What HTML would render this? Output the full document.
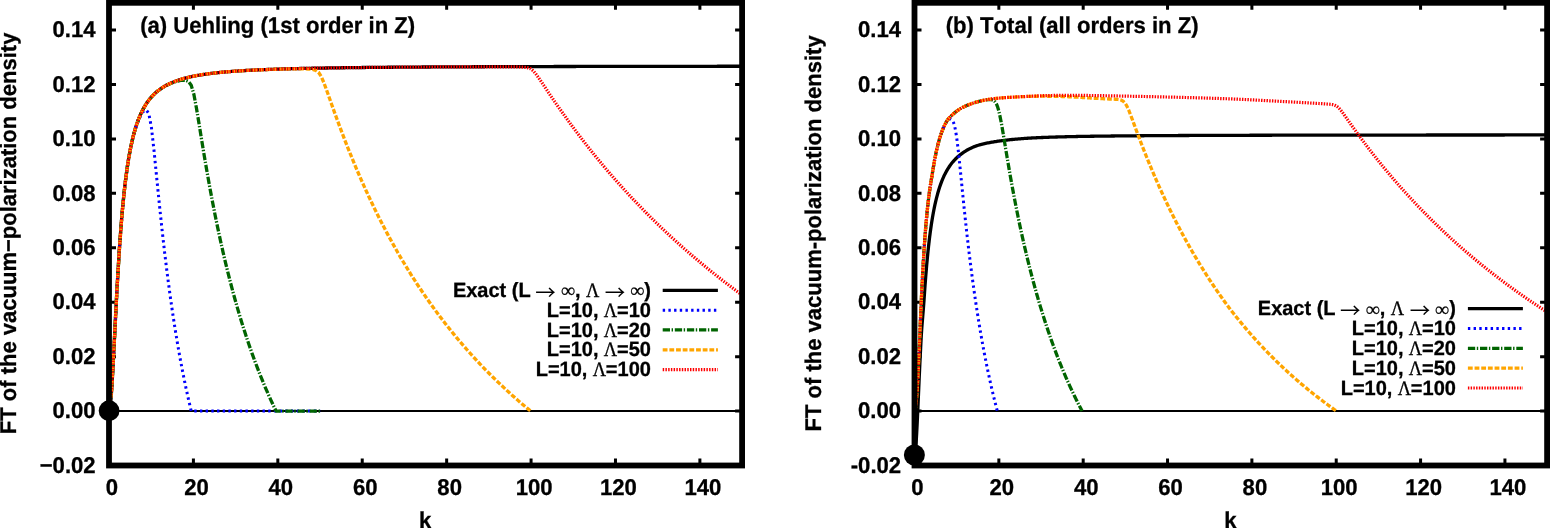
<!DOCTYPE html>
<html><head><meta charset="utf-8"><title>FT of the vacuum-polarization density</title>
<style>html,body{margin:0;padding:0;background:#fff}svg{display:block}</style></head>
<body>
<svg width="1550" height="528" viewBox="0 0 1550 528" style="font-kerning:none;text-rendering:geometricPrecision">
<rect width="1550" height="528" fill="#fff"/>
<clipPath id="c0"><rect x="109.0" y="2.8" width="633.1" height="462.7"/></clipPath>
<line x1="109.0" x2="742.1" y1="411.06" y2="411.06" stroke="#000" stroke-width="1.9"/>
<path d="M109.00,465.5v-7.0M109.00,2.8v7.0M193.41,465.5v-7.0M193.41,2.8v7.0M277.83,465.5v-7.0M277.83,2.8v7.0M362.24,465.5v-7.0M362.24,2.8v7.0M446.65,465.5v-7.0M446.65,2.8v7.0M531.07,465.5v-7.0M531.07,2.8v7.0M615.48,465.5v-7.0M615.48,2.8v7.0M699.89,465.5v-7.0M699.89,2.8v7.0M109.0,465.50h7.0M742.1,465.50h-7.0M109.0,411.06h7.0M742.1,411.06h-7.0M109.0,356.63h7.0M742.1,356.63h-7.0M109.0,302.19h7.0M742.1,302.19h-7.0M109.0,247.76h7.0M742.1,247.76h-7.0M109.0,193.32h7.0M742.1,193.32h-7.0M109.0,138.89h7.0M742.1,138.89h-7.0M109.0,84.45h7.0M742.1,84.45h-7.0M109.0,30.02h7.0M742.1,30.02h-7.0" stroke="#000" stroke-width="3.0" fill="none"/>
<g clip-path="url(#c0)">
<path d="M109.00,411.06 L109.11,411.03 L109.21,410.92 L109.32,410.74 L109.42,410.48 L109.53,410.16 L109.64,409.76 L109.74,409.30 L109.85,408.76 L109.95,408.15 L110.06,407.48 L110.17,406.74 L110.27,405.93 L110.38,405.06 L110.48,404.12 L110.59,403.12 L110.70,402.06 L110.80,400.94 L110.91,399.76 L111.01,398.53 L111.12,397.24 L111.23,395.89 L111.33,394.50 L111.44,393.05 L111.55,391.56 L111.65,390.02 L111.76,388.44 L111.86,386.81 L111.97,385.14 L112.08,383.44 L112.18,381.70 L112.29,379.92 L112.39,378.11 L112.50,376.26 L112.61,374.39 L112.71,372.49 L112.82,370.56 L112.92,368.61 L113.03,366.64 L113.14,364.64 L113.24,362.63 L113.35,360.59 L113.45,358.54 L113.56,356.48 L113.67,354.41 L113.77,352.32 L113.88,350.22 L113.98,348.11 L114.09,346.00 L114.20,343.88 L114.30,341.75 L114.41,339.62 L114.51,337.49 L114.62,335.36 L114.73,333.23 L114.83,331.09 L114.94,328.96 L115.04,326.84 L115.15,324.71 L115.26,322.59 L115.36,320.48 L115.47,318.37 L115.57,316.27 L115.68,314.18 L115.79,312.09 L115.89,310.01 L116.00,307.95 L116.11,305.89 L116.21,303.84 L116.32,301.81 L116.42,299.79 L116.53,297.78 L116.64,295.78 L116.74,293.79 L116.85,291.82 L116.95,289.86 L117.06,287.92 L117.17,285.98 L117.27,284.07 L117.38,282.17 L117.48,280.28 L117.59,278.41 L117.70,276.55 L117.80,274.71 L117.91,272.88 L118.01,271.07 L118.12,269.28 L118.23,267.50 L118.33,265.74 L118.44,263.99 L118.54,262.26 L118.65,260.55 L118.76,258.85 L118.86,257.17 L118.97,255.50 L119.07,253.85 L119.18,252.22 L119.29,250.60 L119.39,249.00 L119.50,247.42 L119.60,245.85 L119.71,244.29 L119.82,242.75 L119.92,241.23 L120.03,239.73 L120.13,238.23 L120.24,236.76 L120.35,235.30 L120.45,233.85 L120.56,232.42 L120.67,231.01 L120.77,229.61 L120.88,228.23 L120.98,226.86 L121.09,225.50 L121.20,224.16 L121.30,222.83 L121.41,221.52 L121.51,220.22 L121.62,218.94 L121.73,217.67 L121.83,216.41 L121.94,215.17 L122.04,213.94 L122.15,212.72 L122.26,211.52 L122.36,210.33 L122.47,209.15 L122.57,207.99 L122.68,206.83 L122.79,205.70 L122.89,204.57 L123.00,203.45 L123.10,202.35 L123.21,201.26 L123.32,200.18 L123.42,199.12 L123.53,198.06 L123.63,197.02 L123.74,195.98 L123.85,194.96 L123.95,193.95 L124.06,192.95 L124.16,191.96 L124.27,190.99 L124.38,190.02 L124.48,189.06 L124.59,188.12 L124.69,187.18 L124.80,186.25 L124.91,185.34 L125.01,184.43 L125.12,183.53 L125.23,182.65 L125.33,181.77 L125.44,180.90 L125.54,180.04 L125.65,179.19 L125.76,178.35 L125.86,177.52 L125.97,176.69 L126.07,175.88 L126.18,175.07 L126.29,174.28 L126.39,173.49 L126.50,172.70 L126.60,171.93 L126.71,171.17 L126.82,170.41 L126.92,169.66 L127.03,168.92 L127.13,168.19 L127.24,167.46 L127.35,166.74 L127.45,166.03 L127.56,165.33 L127.66,164.63 L127.77,163.94 L127.88,163.26 L127.98,162.58 L128.09,161.91 L128.19,161.25 L128.30,160.59 L128.41,159.95 L128.51,159.30 L128.62,158.67 L128.72,158.04 L128.83,157.41 L128.94,156.80 L129.04,156.19 L129.15,155.58 L129.25,154.98 L129.36,154.39 L129.47,153.80 L129.57,153.22 L129.68,152.65 L129.79,152.08 L129.89,151.51 L130.00,150.95 L130.10,150.40 L131.13,145.33 L132.15,140.70 L133.17,136.47 L134.19,132.58 L135.21,129.01 L136.23,125.73 L137.26,122.70 L138.28,119.89 L139.30,117.30 L140.32,114.89 L141.34,112.65 L142.36,110.56 L143.39,108.61 L144.41,106.79 L145.43,105.09 L146.45,103.50 L147.47,102.00 L148.49,100.60 L149.52,99.27 L150.54,98.03 L151.56,96.85 L152.58,95.74 L153.60,94.69 L154.62,93.70 L155.65,92.76 L156.67,91.86 L157.69,91.02 L158.71,90.21 L159.73,89.45 L160.75,88.72 L161.78,88.02 L162.80,87.36 L163.82,86.73 L164.84,86.13 L165.86,85.55 L166.88,85.00 L167.91,84.47 L168.93,83.97 L169.95,83.48 L170.97,83.02 L171.99,82.58 L173.01,82.15 L174.04,81.74 L175.06,81.34 L176.08,80.96 L177.10,80.60 L178.12,80.25 L179.14,79.91 L180.17,79.58 L181.19,79.27 L182.21,78.97 L183.23,78.67 L184.25,78.39 L185.27,78.12 L186.30,77.85 L187.32,77.60 L188.34,77.35 L189.36,77.11 L190.38,76.88 L191.41,76.66 L192.43,76.44 L193.45,76.23 L194.47,76.03 L195.49,75.83 L196.51,75.64 L197.54,75.46 L198.56,75.28 L199.58,75.10 L200.60,74.93 L201.62,74.77 L202.64,74.61 L203.67,74.45 L204.69,74.30 L205.71,74.15 L206.73,74.01 L207.75,73.87 L208.77,73.73 L209.80,73.60 L210.82,73.47 L211.84,73.35 L212.86,73.23 L213.88,73.11 L214.90,72.99 L215.93,72.88 L216.95,72.77 L217.97,72.66 L218.99,72.56 L220.01,72.45 L221.03,72.35 L222.06,72.26 L223.08,72.16 L224.10,72.07 L225.12,71.98 L226.14,71.89 L227.16,71.80 L228.19,71.72 L229.21,71.63 L230.23,71.55 L231.25,71.47 L232.27,71.39 L233.29,71.32 L234.32,71.24 L235.34,71.17 L236.36,71.10 L237.38,71.03 L238.40,70.96 L239.42,70.90 L240.45,70.83 L241.47,70.77 L242.49,70.70 L243.51,70.64 L244.53,70.58 L245.56,70.52 L246.58,70.46 L247.60,70.41 L248.62,70.35 L249.64,70.30 L250.66,70.24 L251.69,70.19 L252.71,70.14 L253.73,70.09 L254.75,70.04 L255.77,69.99 L256.79,69.94 L257.82,69.90 L258.84,69.85 L259.86,69.80 L260.88,69.76 L261.90,69.72 L262.92,69.67 L263.95,69.63 L264.97,69.59 L265.99,69.55 L267.01,69.51 L268.03,69.47 L269.05,69.43 L270.08,69.39 L271.10,69.36 L272.12,69.32 L273.14,69.28 L274.16,69.25 L275.18,69.21 L276.21,69.18 L277.23,69.14 L278.25,69.11 L279.27,69.08 L280.29,69.05 L281.31,69.01 L282.34,68.98 L283.36,68.95 L284.38,68.92 L285.40,68.89 L286.42,68.86 L287.44,68.83 L288.47,68.81 L289.49,68.78 L290.51,68.75 L291.53,68.72 L292.55,68.70 L293.57,68.67 L294.60,68.64 L295.62,68.62 L296.64,68.59 L297.66,68.57 L298.68,68.54 L299.71,68.52 L300.73,68.50 L301.75,68.47 L302.77,68.45 L303.79,68.43 L304.81,68.40 L305.84,68.38 L306.86,68.36 L307.88,68.34 L308.90,68.32 L309.92,68.30 L310.94,68.28 L311.97,68.26 L312.99,68.24 L314.01,68.22 L315.03,68.20 L316.05,68.18 L317.07,68.16 L318.10,68.14 L319.12,68.12 L320.14,68.10 L321.16,68.08 L322.18,68.07 L323.20,68.05 L324.23,68.03 L325.25,68.01 L326.27,68.00 L327.29,67.98 L328.31,67.96 L329.33,67.95 L330.36,67.93 L331.38,67.92 L332.40,67.90 L333.42,67.88 L334.44,67.87 L335.46,67.85 L336.49,67.84 L337.51,67.82 L338.53,67.81 L339.55,67.79 L340.57,67.78 L341.59,67.77 L342.62,67.75 L343.64,67.74 L344.66,67.73 L345.68,67.71 L346.70,67.70 L347.72,67.69 L348.75,67.67 L349.77,67.66 L350.79,67.65 L351.81,67.63 L352.83,67.62 L353.86,67.61 L354.88,67.60 L355.90,67.59 L356.92,67.57 L357.94,67.56 L358.96,67.55 L359.99,67.54 L361.01,67.53 L362.03,67.52 L363.05,67.51 L364.07,67.49 L365.09,67.48 L366.12,67.47 L367.14,67.46 L368.16,67.45 L369.18,67.44 L370.20,67.43 L371.22,67.42 L372.25,67.41 L373.27,67.40 L374.29,67.39 L375.31,67.38 L376.33,67.37 L377.35,67.36 L378.38,67.35 L379.40,67.34 L380.42,67.33 L381.44,67.33 L382.46,67.32 L383.48,67.31 L384.51,67.30 L385.53,67.29 L386.55,67.28 L387.57,67.27 L388.59,67.26 L389.61,67.26 L390.64,67.25 L391.66,67.24 L392.68,67.23 L393.70,67.22 L394.72,67.21 L395.74,67.21 L396.77,67.20 L397.79,67.19 L398.81,67.18 L399.83,67.18 L400.85,67.17 L401.87,67.16 L402.90,67.15 L403.92,67.15 L404.94,67.14 L405.96,67.13 L406.98,67.12 L408.00,67.12 L409.03,67.11 L410.05,67.10 L411.07,67.10 L412.09,67.09 L413.11,67.08 L414.14,67.08 L415.16,67.07 L416.18,67.06 L417.20,67.06 L418.22,67.05 L419.24,67.04 L420.27,67.04 L421.29,67.03 L422.31,67.02 L423.33,67.02 L424.35,67.01 L425.37,67.01 L426.40,67.00 L427.42,66.99 L428.44,66.99 L429.46,66.98 L430.48,66.98 L431.50,66.97 L432.53,66.96 L433.55,66.96 L434.57,66.95 L435.59,66.95 L436.61,66.94 L437.63,66.94 L438.66,66.93 L439.68,66.93 L440.70,66.92 L441.72,66.91 L442.74,66.91 L443.76,66.90 L444.79,66.90 L445.81,66.89 L446.83,66.89 L447.85,66.88 L448.87,66.88 L449.89,66.87 L450.92,66.87 L451.94,66.86 L452.96,66.86 L453.98,66.85 L455.00,66.85 L456.02,66.85 L457.05,66.84 L458.07,66.84 L459.09,66.83 L460.11,66.83 L461.13,66.82 L462.15,66.82 L463.18,66.81 L464.20,66.81 L465.22,66.80 L466.24,66.80 L467.26,66.80 L468.29,66.79 L469.31,66.79 L470.33,66.78 L471.35,66.78 L472.37,66.77 L473.39,66.77 L474.42,66.77 L475.44,66.76 L476.46,66.76 L477.48,66.75 L478.50,66.75 L479.52,66.75 L480.55,66.74 L481.57,66.74 L482.59,66.73 L483.61,66.73 L484.63,66.73 L485.65,66.72 L486.68,66.72 L487.70,66.72 L488.72,66.71 L489.74,66.71 L490.76,66.70 L491.78,66.70 L492.81,66.70 L493.83,66.69 L494.85,66.69 L495.87,66.69 L496.89,66.68 L497.91,66.68 L498.94,66.68 L499.96,66.67 L500.98,66.67 L502.00,66.67 L503.02,66.66 L504.04,66.66 L505.07,66.66 L506.09,66.65 L507.11,66.65 L508.13,66.65 L509.15,66.64 L510.17,66.64 L511.20,66.64 L512.22,66.63 L513.24,66.63 L514.26,66.63 L515.28,66.63 L516.30,66.62 L517.33,66.62 L518.35,66.62 L519.37,66.61 L520.39,66.61 L521.41,66.61 L522.44,66.60 L523.46,66.60 L524.48,66.60 L525.50,66.60 L526.52,66.59 L527.54,66.59 L528.57,66.59 L529.59,66.58 L530.61,66.58 L531.63,66.58 L532.65,66.58 L533.67,66.57 L534.70,66.57 L535.72,66.57 L536.74,66.57 L537.76,66.56 L538.78,66.56 L539.80,66.56 L540.83,66.56 L541.85,66.55 L542.87,66.55 L543.89,66.55 L544.91,66.55 L545.93,66.54 L546.96,66.54 L547.98,66.54 L549.00,66.54 L550.02,66.53 L551.04,66.53 L552.06,66.53 L553.09,66.53 L554.11,66.52 L555.13,66.52 L556.15,66.52 L557.17,66.52 L558.19,66.51 L559.22,66.51 L560.24,66.51 L561.26,66.51 L562.28,66.50 L563.30,66.50 L564.32,66.50 L565.35,66.50 L566.37,66.50 L567.39,66.49 L568.41,66.49 L569.43,66.49 L570.45,66.49 L571.48,66.48 L572.50,66.48 L573.52,66.48 L574.54,66.48 L575.56,66.48 L576.59,66.47 L577.61,66.47 L578.63,66.47 L579.65,66.47 L580.67,66.47 L581.69,66.46 L582.72,66.46 L583.74,66.46 L584.76,66.46 L585.78,66.46 L586.80,66.45 L587.82,66.45 L588.85,66.45 L589.87,66.45 L590.89,66.45 L591.91,66.44 L592.93,66.44 L593.95,66.44 L594.98,66.44 L596.00,66.44 L597.02,66.44 L598.04,66.43 L599.06,66.43 L600.08,66.43 L601.11,66.43 L602.13,66.43 L603.15,66.42 L604.17,66.42 L605.19,66.42 L606.21,66.42 L607.24,66.42 L608.26,66.42 L609.28,66.41 L610.30,66.41 L611.32,66.41 L612.34,66.41 L613.37,66.41 L614.39,66.41 L615.41,66.40 L616.43,66.40 L617.45,66.40 L618.47,66.40 L619.50,66.40 L620.52,66.40 L621.54,66.39 L622.56,66.39 L623.58,66.39 L624.60,66.39 L625.63,66.39 L626.65,66.39 L627.67,66.38 L628.69,66.38 L629.71,66.38 L630.73,66.38 L631.76,66.38 L632.78,66.38 L633.80,66.38 L634.82,66.37 L635.84,66.37 L636.87,66.37 L637.89,66.37 L638.91,66.37 L639.93,66.37 L640.95,66.37 L641.97,66.36 L643.00,66.36 L644.02,66.36 L645.04,66.36 L646.06,66.36 L647.08,66.36 L648.10,66.36 L649.13,66.35 L650.15,66.35 L651.17,66.35 L652.19,66.35 L653.21,66.35 L654.23,66.35 L655.26,66.35 L656.28,66.34 L657.30,66.34 L658.32,66.34 L659.34,66.34 L660.36,66.34 L661.39,66.34 L662.41,66.34 L663.43,66.34 L664.45,66.33 L665.47,66.33 L666.49,66.33 L667.52,66.33 L668.54,66.33 L669.56,66.33 L670.58,66.33 L671.60,66.33 L672.62,66.32 L673.65,66.32 L674.67,66.32 L675.69,66.32 L676.71,66.32 L677.73,66.32 L678.75,66.32 L679.78,66.32 L680.80,66.31 L681.82,66.31 L682.84,66.31 L683.86,66.31 L684.88,66.31 L685.91,66.31 L686.93,66.31 L687.95,66.31 L688.97,66.30 L689.99,66.30 L691.02,66.30 L692.04,66.30 L693.06,66.30 L694.08,66.30 L695.10,66.30 L696.12,66.30 L697.15,66.30 L698.17,66.29 L699.19,66.29 L700.21,66.29 L701.23,66.29 L702.25,66.29 L703.28,66.29 L704.30,66.29 L705.32,66.29 L706.34,66.29 L707.36,66.29 L708.38,66.28 L709.41,66.28 L710.43,66.28 L711.45,66.28 L712.47,66.28 L713.49,66.28 L714.51,66.28 L715.54,66.28 L716.56,66.28 L717.58,66.27 L718.60,66.27 L719.62,66.27 L720.64,66.27 L721.67,66.27 L722.69,66.27 L723.71,66.27 L724.73,66.27 L725.75,66.27 L726.77,66.27 L727.80,66.27 L728.82,66.26 L729.84,66.26 L730.86,66.26 L731.88,66.26 L732.90,66.26 L733.93,66.26 L734.95,66.26 L735.97,66.26 L736.99,66.26 L738.01,66.26 L739.03,66.26 L740.06,66.25 L741.08,66.25 L742.10,66.25" fill="none" stroke="#000" stroke-width="3.3" stroke-linejoin="round"/>
<path d="M109.00,411.06 L111.65,390.02 L114.30,341.74 L116.96,289.84 L119.61,245.83 L122.26,211.53 L124.91,185.39 L127.56,165.43 L130.22,150.05 L132.87,138.04 L135.52,128.59 L138.17,121.14 L140.82,115.42 L143.48,111.44 L146.13,109.92 L148.78,113.47 L151.43,127.41 L154.08,151.18 L156.73,178.06 L159.39,204.60 L162.04,229.67 L164.69,253.02 L167.34,274.63 L169.99,294.63 L172.65,313.13 L175.30,330.27 L177.95,346.19 L180.60,361.00 L183.25,374.80 L185.91,387.69 L188.56,399.75 L191.21,411.06 L193.86,411.06 L196.51,411.06 L199.17,411.06 L201.82,411.06 L204.47,411.06 L207.12,411.06 L209.77,411.06 L212.43,411.06 L215.08,411.06 L217.73,411.06 L220.38,411.06 L223.03,411.06 L225.68,411.06 L228.34,411.06 L230.99,411.06 L233.64,411.06 L236.29,411.06 L238.94,411.06 L241.60,411.06 L244.25,411.06 L246.90,411.06 L249.55,411.06 L252.20,411.06 L254.86,411.06 L257.51,411.06 L260.16,411.06 L262.81,411.06 L265.46,411.06 L268.12,411.06 L270.77,411.06 L273.42,411.06 L276.07,411.06 L278.72,411.06 L281.38,411.06 L284.03,411.06 L286.68,411.06 L289.33,411.06 L291.98,411.06 L294.63,411.06 L297.29,411.06 L299.94,411.06 L302.59,411.06 L305.24,411.06 L307.89,411.06 L310.55,411.06 L313.20,411.06 L315.85,411.06 L318.50,411.06 L320.16,411.06" fill="none" stroke="#0000ff" stroke-width="3.0" stroke-dasharray="2.4,3.29" stroke-linejoin="round"/>
<path d="M109.00,411.06 L111.65,390.02 L114.30,341.73 L116.96,289.83 L119.61,245.81 L122.26,211.48 L124.91,185.30 L127.56,165.30 L130.22,149.83 L132.87,137.68 L135.52,128.01 L138.17,120.19 L140.82,113.79 L143.48,108.48 L146.13,104.03 L148.78,100.26 L151.43,97.05 L154.08,94.28 L156.73,91.89 L159.39,89.81 L162.04,87.99 L164.69,86.39 L167.34,84.99 L169.99,83.76 L172.65,82.69 L175.30,81.78 L177.95,81.03 L180.60,80.48 L183.25,80.20 L185.91,80.39 L188.56,81.57 L191.21,85.24 L193.86,94.25 L196.51,108.45 L199.17,124.60 L201.82,140.98 L204.47,157.01 L207.12,172.45 L209.77,187.26 L212.43,201.43 L215.08,214.96 L217.73,227.89 L220.38,240.24 L223.03,252.04 L225.68,263.34 L228.34,274.15 L230.99,284.51 L233.64,294.44 L236.29,303.96 L238.94,313.11 L241.60,321.90 L244.25,330.35 L246.90,338.48 L249.55,346.31 L252.20,353.85 L254.86,361.12 L257.51,368.13 L260.16,374.91 L262.81,381.45 L265.46,387.77 L268.12,393.88 L270.77,399.80 L273.42,405.52 L276.07,411.06 L278.72,411.06 L281.38,411.06 L284.03,411.06 L286.68,411.06 L289.33,411.06 L291.98,411.06 L294.63,411.06 L297.29,411.06 L299.94,411.06 L302.59,411.06 L305.24,411.06 L307.89,411.06 L310.55,411.06 L313.20,411.06 L315.85,411.06 L318.50,411.06 L320.16,411.06" fill="none" stroke="#006400" stroke-width="3.3" stroke-dasharray="7.3,1.6,1.4,1.8" stroke-linejoin="round"/>
<path d="M109.00,411.06 L111.65,390.02 L114.30,341.73 L116.96,289.82 L119.61,245.81 L122.26,211.48 L124.91,185.30 L127.56,165.29 L130.22,149.82 L132.87,137.68 L135.52,128.00 L138.17,120.18 L140.82,113.77 L143.48,108.45 L146.13,103.99 L148.78,100.22 L151.43,96.99 L154.08,94.22 L156.73,91.81 L159.39,89.70 L162.04,87.85 L164.69,86.22 L167.34,84.76 L169.99,83.47 L172.65,82.30 L175.30,81.26 L177.95,80.31 L180.60,79.45 L183.25,78.67 L185.91,77.96 L188.56,77.30 L191.21,76.71 L193.86,76.15 L196.51,75.65 L199.17,75.18 L201.82,74.74 L204.47,74.34 L207.12,73.96 L209.77,73.61 L212.43,73.29 L215.08,72.98 L217.73,72.70 L220.38,72.43 L223.03,72.18 L225.68,71.94 L228.34,71.72 L230.99,71.51 L233.64,71.31 L236.29,71.12 L238.94,70.95 L241.60,70.78 L244.25,70.62 L246.90,70.47 L249.55,70.33 L252.20,70.20 L254.86,70.07 L257.51,69.95 L260.16,69.83 L262.81,69.73 L265.46,69.62 L268.12,69.53 L270.77,69.43 L273.42,69.35 L276.07,69.27 L278.72,69.19 L281.38,69.12 L284.03,69.06 L286.68,69.00 L289.33,68.95 L291.98,68.91 L294.63,68.87 L297.29,68.85 L299.94,68.85 L302.59,68.87 L305.24,68.92 L307.89,69.03 L310.55,69.23 L313.20,69.61 L315.85,70.41 L318.50,72.24 L321.15,76.29 L323.81,82.54 L326.46,89.73 L329.11,97.19 L331.76,104.68 L334.41,112.10 L337.07,119.41 L339.72,126.59 L342.37,133.63 L345.02,140.54 L347.67,147.31 L350.33,153.93 L352.98,160.43 L355.63,166.79 L358.28,173.01 L360.93,179.12 L363.58,185.10 L366.24,190.95 L368.89,196.69 L371.54,202.32 L374.19,207.84 L376.84,213.25 L379.50,218.55 L382.15,223.75 L384.80,228.86 L387.45,233.87 L390.10,238.78 L392.76,243.60 L395.41,248.34 L398.06,252.98 L400.71,257.55 L403.36,262.03 L406.02,266.43 L408.67,270.76 L411.32,275.01 L413.97,279.18 L416.62,283.29 L419.28,287.32 L421.93,291.29 L424.58,295.19 L427.23,299.03 L429.88,302.80 L432.53,306.51 L435.19,310.16 L437.84,313.75 L440.49,317.29 L443.14,320.77 L445.79,324.19 L448.45,327.56 L451.10,330.88 L453.75,334.15 L456.40,337.37 L459.05,340.54 L461.71,343.66 L464.36,346.73 L467.01,349.76 L469.66,352.75 L472.31,355.69 L474.97,358.59 L477.62,361.45 L480.27,364.26 L482.92,367.04 L485.57,369.78 L488.23,372.48 L490.88,375.14 L493.53,377.77 L496.18,380.36 L498.83,382.91 L501.48,385.43 L504.14,387.92 L506.79,390.37 L509.44,392.79 L512.09,395.18 L514.74,397.54 L517.40,399.87 L520.05,402.16 L522.70,404.43 L525.35,406.67 L528.00,408.88 L530.64,411.06" fill="none" stroke="#ffa500" stroke-width="3.3" stroke-dasharray="4.8,1.87" stroke-linejoin="round"/>
<path d="M109.00,411.06 L111.65,390.02 L114.30,341.73 L116.96,289.82 L119.61,245.81 L122.26,211.48 L124.91,185.30 L127.56,165.29 L130.22,149.82 L132.87,137.68 L135.52,128.00 L138.17,120.18 L140.82,113.77 L143.48,108.45 L146.13,103.99 L148.78,100.22 L151.43,96.99 L154.08,94.22 L156.73,91.81 L159.39,89.70 L162.04,87.85 L164.69,86.21 L167.34,84.76 L169.99,83.46 L172.65,82.30 L175.30,81.25 L177.95,80.31 L180.60,79.45 L183.25,78.67 L185.91,77.95 L188.56,77.30 L191.21,76.70 L193.86,76.15 L196.51,75.64 L199.17,75.17 L201.82,74.74 L204.47,74.33 L207.12,73.96 L209.77,73.61 L212.43,73.28 L215.08,72.97 L217.73,72.69 L220.38,72.42 L223.03,72.17 L225.68,71.93 L228.34,71.70 L230.99,71.49 L233.64,71.29 L236.29,71.11 L238.94,70.93 L241.60,70.76 L244.25,70.60 L246.90,70.45 L249.55,70.30 L252.20,70.17 L254.86,70.03 L257.51,69.91 L260.16,69.79 L262.81,69.68 L265.46,69.57 L268.12,69.47 L270.77,69.37 L273.42,69.27 L276.07,69.18 L278.72,69.10 L281.38,69.01 L284.03,68.93 L286.68,68.86 L289.33,68.78 L291.98,68.71 L294.63,68.64 L297.29,68.58 L299.94,68.52 L302.59,68.45 L305.24,68.40 L307.89,68.34 L310.55,68.29 L313.20,68.23 L315.85,68.18 L318.50,68.13 L321.15,68.09 L323.81,68.04 L326.46,68.00 L329.11,67.95 L331.76,67.91 L334.41,67.87 L337.07,67.83 L339.72,67.80 L342.37,67.76 L345.02,67.72 L347.67,67.69 L350.33,67.66 L352.98,67.62 L355.63,67.59 L358.28,67.56 L360.93,67.53 L363.58,67.50 L366.24,67.48 L368.89,67.45 L371.54,67.42 L374.19,67.40 L376.84,67.37 L379.50,67.35 L382.15,67.32 L384.80,67.30 L387.45,67.28 L390.10,67.26 L392.76,67.24 L395.41,67.22 L398.06,67.20 L400.71,67.18 L403.36,67.16 L406.02,67.14 L408.67,67.12 L411.32,67.10 L413.97,67.09 L416.62,67.07 L419.28,67.05 L421.93,67.04 L424.58,67.02 L427.23,67.01 L429.88,66.99 L432.53,66.98 L435.19,66.97 L437.84,66.95 L440.49,66.94 L443.14,66.93 L445.79,66.92 L448.45,66.90 L451.10,66.89 L453.75,66.88 L456.40,66.87 L459.05,66.86 L461.71,66.85 L464.36,66.84 L467.01,66.83 L469.66,66.83 L472.31,66.82 L474.97,66.81 L477.62,66.81 L480.27,66.80 L482.92,66.79 L485.57,66.79 L488.23,66.79 L490.88,66.79 L493.53,66.79 L496.18,66.79 L498.83,66.79 L501.48,66.80 L504.14,66.80 L506.79,66.82 L509.44,66.84 L512.09,66.86 L514.74,66.90 L517.40,66.96 L520.05,67.04 L522.70,67.17 L525.35,67.40 L528.00,67.83 L530.66,68.80 L533.31,70.89 L535.96,74.11 L538.61,77.83 L541.26,81.72 L543.92,85.67 L546.57,89.62 L549.22,93.56 L551.87,97.46 L554.52,101.34 L557.18,105.17 L559.83,108.97 L562.48,112.73 L565.13,116.44 L567.78,120.12 L570.43,123.76 L573.09,127.36 L575.74,130.92 L578.39,134.44 L581.04,137.92 L583.69,141.36 L586.35,144.77 L589.00,148.14 L591.65,151.47 L594.30,154.77 L596.95,158.03 L599.61,161.26 L602.26,164.45 L604.91,167.61 L607.56,170.73 L610.21,173.83 L612.87,176.89 L615.52,179.92 L618.17,182.91 L620.82,185.88 L623.47,188.82 L626.13,191.72 L628.78,194.60 L631.43,197.45 L634.08,200.27 L636.73,203.06 L639.38,205.82 L642.04,208.55 L644.69,211.26 L647.34,213.94 L649.99,216.60 L652.64,219.23 L655.30,221.83 L657.95,224.41 L660.60,226.97 L663.25,229.50 L665.90,232.00 L668.56,234.49 L671.21,236.95 L673.86,239.38 L676.51,241.80 L679.16,244.19 L681.82,246.56 L684.47,248.90 L687.12,251.23 L689.77,253.53 L692.42,255.82 L695.08,258.08 L697.73,260.32 L700.38,262.54 L703.03,264.75 L705.68,266.93 L708.33,269.09 L710.99,271.24 L713.64,273.36 L716.29,275.47 L718.94,277.56 L721.59,279.63 L724.25,281.68 L726.90,283.72 L729.55,285.74 L732.20,287.74 L734.85,289.72 L737.51,291.69 L740.16,293.64 L742.81,295.58 L745.46,297.49 L748.11,299.40 L750.54,301.25" fill="none" stroke="#ff0000" stroke-width="3.2" stroke-dasharray="1.45,1.28" stroke-linejoin="round"/>
</g>
<text transform="translate(112.00,495.30) scale(1,1.03)" font-size="22.1" text-anchor="middle" stroke="#000" stroke-width="0.3" font-family="Liberation Sans, Arial, Helvetica, sans-serif" font-weight="bold">0</text>
<text transform="translate(196.41,495.30) scale(1,1.03)" font-size="22.1" text-anchor="middle" stroke="#000" stroke-width="0.3" font-family="Liberation Sans, Arial, Helvetica, sans-serif" font-weight="bold">20</text>
<text transform="translate(280.83,495.30) scale(1,1.03)" font-size="22.1" text-anchor="middle" stroke="#000" stroke-width="0.3" font-family="Liberation Sans, Arial, Helvetica, sans-serif" font-weight="bold">40</text>
<text transform="translate(365.24,495.30) scale(1,1.03)" font-size="22.1" text-anchor="middle" stroke="#000" stroke-width="0.3" font-family="Liberation Sans, Arial, Helvetica, sans-serif" font-weight="bold">60</text>
<text transform="translate(449.65,495.30) scale(1,1.03)" font-size="22.1" text-anchor="middle" stroke="#000" stroke-width="0.3" font-family="Liberation Sans, Arial, Helvetica, sans-serif" font-weight="bold">80</text>
<text transform="translate(534.07,495.30) scale(1,1.03)" font-size="22.1" text-anchor="middle" stroke="#000" stroke-width="0.3" font-family="Liberation Sans, Arial, Helvetica, sans-serif" font-weight="bold">100</text>
<text transform="translate(618.48,495.30) scale(1,1.03)" font-size="22.1" text-anchor="middle" stroke="#000" stroke-width="0.3" font-family="Liberation Sans, Arial, Helvetica, sans-serif" font-weight="bold">120</text>
<text transform="translate(702.89,495.30) scale(1,1.03)" font-size="22.1" text-anchor="middle" stroke="#000" stroke-width="0.3" font-family="Liberation Sans, Arial, Helvetica, sans-serif" font-weight="bold">140</text>
<text transform="translate(95.60,472.70) scale(1,1.03)" font-size="22.1" text-anchor="end" stroke="#000" stroke-width="0.3" font-family="Liberation Sans, Arial, Helvetica, sans-serif" font-weight="bold">−0.02</text>
<text transform="translate(95.60,418.26) scale(1,1.03)" font-size="22.1" text-anchor="end" stroke="#000" stroke-width="0.3" font-family="Liberation Sans, Arial, Helvetica, sans-serif" font-weight="bold">0.00</text>
<text transform="translate(95.60,363.83) scale(1,1.03)" font-size="22.1" text-anchor="end" stroke="#000" stroke-width="0.3" font-family="Liberation Sans, Arial, Helvetica, sans-serif" font-weight="bold">0.02</text>
<text transform="translate(95.60,309.39) scale(1,1.03)" font-size="22.1" text-anchor="end" stroke="#000" stroke-width="0.3" font-family="Liberation Sans, Arial, Helvetica, sans-serif" font-weight="bold">0.04</text>
<text transform="translate(95.60,254.96) scale(1,1.03)" font-size="22.1" text-anchor="end" stroke="#000" stroke-width="0.3" font-family="Liberation Sans, Arial, Helvetica, sans-serif" font-weight="bold">0.06</text>
<text transform="translate(95.60,200.52) scale(1,1.03)" font-size="22.1" text-anchor="end" stroke="#000" stroke-width="0.3" font-family="Liberation Sans, Arial, Helvetica, sans-serif" font-weight="bold">0.08</text>
<text transform="translate(95.60,146.09) scale(1,1.03)" font-size="22.1" text-anchor="end" stroke="#000" stroke-width="0.3" font-family="Liberation Sans, Arial, Helvetica, sans-serif" font-weight="bold">0.10</text>
<text transform="translate(95.60,91.65) scale(1,1.03)" font-size="22.1" text-anchor="end" stroke="#000" stroke-width="0.3" font-family="Liberation Sans, Arial, Helvetica, sans-serif" font-weight="bold">0.12</text>
<text transform="translate(95.60,37.22) scale(1,1.03)" font-size="22.1" text-anchor="end" stroke="#000" stroke-width="0.3" font-family="Liberation Sans, Arial, Helvetica, sans-serif" font-weight="bold">0.14</text>
<rect x="109.0" y="2.8" width="633.1" height="462.7" fill="none" stroke="#000" stroke-width="5.8"/>
<circle cx="109.1" cy="410.76" r="10.4" fill="#000"/>
<text transform="translate(140.20,33.40) scale(1,1.03)" font-size="22.1" text-anchor="start" stroke="#000" stroke-width="0.3" font-family="Liberation Sans, Arial, Helvetica, sans-serif" font-weight="bold">(a) Uehling (1st order in Z)</text>
<text transform="translate(425.05,527.90) scale(1,1.03)" font-size="22.1" text-anchor="middle" stroke="#000" stroke-width="0.3" font-family="Liberation Sans, Arial, Helvetica, sans-serif" font-weight="bold">k</text>
<text transform="translate(15.90,233.40) rotate(-90) scale(1,1.03)" font-size="22.0" text-anchor="middle" stroke="#000" stroke-width="0.3" font-family="Liberation Sans, Arial, Helvetica, sans-serif" font-weight="bold">FT of the vacuum−polarization density</text>
<text transform="translate(530.70,296.90) scale(1,1.03)" font-size="20" text-anchor="end" stroke="#000" stroke-width="0.3" font-family="Liberation Sans, Arial, Helvetica, sans-serif" font-weight="bold">Exact (L</text>
<text transform="translate(545.40,299.70) scale(1,1.0)" font-size="20.5" text-anchor="middle" font-family="Noto Sans CJK SC, DejaVu Sans, sans-serif" font-weight="normal">→</text>
<text transform="translate(568.00,297.40) scale(1,1.0)" font-size="20" text-anchor="middle" stroke="#000" stroke-width="0.25" font-family="Liberation Serif, serif" font-weight="normal">∞</text>
<text transform="translate(574.90,296.90) scale(1,1.03)" font-size="20" text-anchor="start" stroke="#000" stroke-width="0.3" font-family="Liberation Sans, Arial, Helvetica, sans-serif" font-weight="bold">,</text>
<text transform="translate(592.60,296.90) scale(0.92,1.03)" font-size="20" text-anchor="middle" stroke="#000" stroke-width="0.35" font-family="Liberation Serif, serif" font-weight="normal">Λ</text>
<text transform="translate(615.00,299.70) scale(1,1.0)" font-size="20.5" text-anchor="middle" font-family="Noto Sans CJK SC, DejaVu Sans, sans-serif" font-weight="normal">→</text>
<text transform="translate(637.30,297.40) scale(1,1.0)" font-size="20" text-anchor="middle" stroke="#000" stroke-width="0.25" font-family="Liberation Serif, serif" font-weight="normal">∞</text>
<text transform="translate(650.90,296.90) scale(1,1.03)" font-size="20" text-anchor="end" stroke="#000" stroke-width="0.3" font-family="Liberation Sans, Arial, Helvetica, sans-serif" font-weight="bold">)</text>
<path d="M662.70,290.30 L717.90,290.30" fill="none" stroke="#000" stroke-width="3.3" stroke-linejoin="round"/>
<text transform="translate(650.90,316.73) scale(1,1.03)" font-size="20" text-anchor="end" stroke="#000" stroke-width="0.3" font-family="Liberation Sans, Arial, Helvetica, sans-serif" font-weight="bold">=10</text>
<text transform="translate(610.48,316.73) scale(0.92,1.03)" font-size="20" text-anchor="middle" stroke="#000" stroke-width="0.35" font-family="Liberation Serif, serif" font-weight="normal">Λ</text>
<text transform="translate(598.52,316.73) scale(1,1.03)" font-size="20" text-anchor="end" stroke="#000" stroke-width="0.3" font-family="Liberation Sans, Arial, Helvetica, sans-serif" font-weight="bold">L=10,</text>
<path d="M662.70,310.13 L717.90,310.13" fill="none" stroke="#0000ff" stroke-width="3.0" stroke-dasharray="2.4,3.29" stroke-linejoin="round"/>
<text transform="translate(650.90,336.56) scale(1,1.03)" font-size="20" text-anchor="end" stroke="#000" stroke-width="0.3" font-family="Liberation Sans, Arial, Helvetica, sans-serif" font-weight="bold">=20</text>
<text transform="translate(610.48,336.56) scale(0.92,1.03)" font-size="20" text-anchor="middle" stroke="#000" stroke-width="0.35" font-family="Liberation Serif, serif" font-weight="normal">Λ</text>
<text transform="translate(598.52,336.56) scale(1,1.03)" font-size="20" text-anchor="end" stroke="#000" stroke-width="0.3" font-family="Liberation Sans, Arial, Helvetica, sans-serif" font-weight="bold">L=10,</text>
<path d="M662.70,329.96 L717.90,329.96" fill="none" stroke="#006400" stroke-width="3.3" stroke-dasharray="7.3,1.6,1.4,1.8" stroke-linejoin="round"/>
<text transform="translate(650.90,356.39) scale(1,1.03)" font-size="20" text-anchor="end" stroke="#000" stroke-width="0.3" font-family="Liberation Sans, Arial, Helvetica, sans-serif" font-weight="bold">=50</text>
<text transform="translate(610.48,356.39) scale(0.92,1.03)" font-size="20" text-anchor="middle" stroke="#000" stroke-width="0.35" font-family="Liberation Serif, serif" font-weight="normal">Λ</text>
<text transform="translate(598.52,356.39) scale(1,1.03)" font-size="20" text-anchor="end" stroke="#000" stroke-width="0.3" font-family="Liberation Sans, Arial, Helvetica, sans-serif" font-weight="bold">L=10,</text>
<path d="M662.70,349.79 L717.90,349.79" fill="none" stroke="#ffa500" stroke-width="3.3" stroke-dasharray="4.8,1.87" stroke-linejoin="round"/>
<text transform="translate(650.90,376.22) scale(1,1.03)" font-size="20" text-anchor="end" stroke="#000" stroke-width="0.3" font-family="Liberation Sans, Arial, Helvetica, sans-serif" font-weight="bold">=100</text>
<text transform="translate(599.36,376.22) scale(0.92,1.03)" font-size="20" text-anchor="middle" stroke="#000" stroke-width="0.35" font-family="Liberation Serif, serif" font-weight="normal">Λ</text>
<text transform="translate(587.40,376.22) scale(1,1.03)" font-size="20" text-anchor="end" stroke="#000" stroke-width="0.3" font-family="Liberation Sans, Arial, Helvetica, sans-serif" font-weight="bold">L=10,</text>
<path d="M662.70,369.62 L717.90,369.62" fill="none" stroke="#ff0000" stroke-width="3.2" stroke-dasharray="1.45,1.28" stroke-linejoin="round"/>
<clipPath id="c1"><rect x="914.5" y="2.8" width="632.5999999999999" height="462.7"/></clipPath>
<line x1="914.5" x2="1547.1" y1="411.06" y2="411.06" stroke="#000" stroke-width="1.9"/>
<path d="M914.50,465.5v-7.0M914.50,2.8v7.0M998.85,465.5v-7.0M998.85,2.8v7.0M1083.19,465.5v-7.0M1083.19,2.8v7.0M1167.54,465.5v-7.0M1167.54,2.8v7.0M1251.89,465.5v-7.0M1251.89,2.8v7.0M1336.23,465.5v-7.0M1336.23,2.8v7.0M1420.58,465.5v-7.0M1420.58,2.8v7.0M1504.93,465.5v-7.0M1504.93,2.8v7.0M914.5,465.50h7.0M1547.1,465.50h-7.0M914.5,411.06h7.0M1547.1,411.06h-7.0M914.5,356.63h7.0M1547.1,356.63h-7.0M914.5,302.19h7.0M1547.1,302.19h-7.0M914.5,247.76h7.0M1547.1,247.76h-7.0M914.5,193.32h7.0M1547.1,193.32h-7.0M914.5,138.89h7.0M1547.1,138.89h-7.0M914.5,84.45h7.0M1547.1,84.45h-7.0M914.5,30.02h7.0M1547.1,30.02h-7.0" stroke="#000" stroke-width="3.0" fill="none"/>
<g clip-path="url(#c1)">
<path d="M914.50,454.61 L914.61,454.56 L914.71,454.39 L914.82,454.12 L914.92,453.73 L915.03,453.24 L915.14,452.64 L915.24,451.93 L915.35,451.12 L915.45,450.21 L915.56,449.19 L915.67,448.08 L915.77,446.88 L915.88,445.58 L915.98,444.20 L916.09,442.72 L916.20,441.17 L916.30,439.53 L916.41,437.82 L916.51,436.03 L916.62,434.18 L916.73,432.26 L916.83,430.27 L916.94,428.23 L917.04,426.13 L917.15,423.98 L917.26,421.79 L917.36,419.55 L917.47,417.26 L917.57,414.95 L917.68,412.59 L917.78,410.21 L917.89,407.81 L918.00,405.39 L918.10,402.97 L918.21,400.54 L918.31,398.11 L918.42,395.68 L918.53,393.25 L918.63,390.83 L918.74,388.42 L918.84,386.01 L918.95,383.62 L919.06,381.24 L919.16,378.87 L919.27,376.52 L919.37,374.18 L919.48,371.86 L919.59,369.56 L919.69,367.28 L919.80,365.02 L919.90,362.78 L920.01,360.56 L920.12,358.37 L920.22,356.19 L920.33,354.04 L920.43,351.91 L920.54,349.80 L920.65,347.71 L920.75,345.65 L920.86,343.61 L920.96,341.59 L921.07,339.59 L921.18,337.68 L921.28,335.86 L921.39,334.13 L921.49,332.47 L921.60,330.88 L921.71,329.35 L921.81,327.87 L921.92,326.44 L922.02,325.05 L922.13,323.70 L922.24,322.37 L922.34,321.07 L922.45,319.78 L922.55,318.51 L922.66,317.24 L922.77,315.98 L922.87,314.71 L922.98,313.44 L923.08,312.17 L923.19,310.88 L923.29,309.57 L923.40,308.25 L923.51,306.91 L923.61,305.54 L923.72,304.15 L923.82,302.73 L923.93,301.28 L924.04,299.79 L924.14,298.27 L924.25,296.72 L924.35,295.16 L924.46,293.61 L924.57,292.09 L924.67,290.58 L924.78,289.09 L924.88,287.62 L924.99,286.16 L925.10,284.73 L925.20,283.31 L925.31,281.90 L925.41,280.52 L925.52,279.15 L925.63,277.79 L925.73,276.46 L925.84,275.14 L925.94,273.83 L926.05,272.54 L926.16,271.27 L926.26,270.01 L926.37,268.77 L926.47,267.54 L926.58,266.33 L926.69,265.14 L926.79,263.95 L926.90,262.78 L927.00,261.63 L927.11,260.49 L927.22,259.37 L927.32,258.25 L927.43,257.15 L927.53,256.07 L927.64,255.00 L927.75,253.94 L927.85,252.89 L927.96,251.86 L928.06,250.84 L928.17,249.83 L928.28,248.83 L928.38,247.85 L928.49,246.88 L928.59,245.92 L928.70,244.97 L928.81,244.03 L928.91,243.10 L929.02,242.19 L929.12,241.28 L929.23,240.39 L929.33,239.51 L929.44,238.64 L929.55,237.77 L929.65,236.92 L929.76,236.08 L929.86,235.25 L929.97,234.43 L930.08,233.61 L930.18,232.81 L930.29,232.02 L930.39,231.23 L930.50,230.46 L930.61,229.69 L930.71,228.94 L930.82,228.19 L930.92,227.45 L931.03,226.72 L931.14,225.99 L931.24,225.28 L931.35,224.57 L931.45,223.87 L931.56,223.18 L931.67,222.50 L931.77,221.82 L931.88,221.16 L931.98,220.50 L932.09,219.85 L932.20,219.20 L932.30,218.56 L932.41,217.93 L932.51,217.31 L932.62,216.69 L932.73,216.08 L932.83,215.48 L932.94,214.88 L933.04,214.29 L933.15,213.71 L933.26,213.13 L933.36,212.56 L933.47,211.99 L933.57,211.43 L933.68,210.88 L933.79,210.33 L933.89,209.79 L934.00,209.26 L934.10,208.73 L934.21,208.20 L934.32,207.68 L934.42,207.17 L934.53,206.66 L934.63,206.16 L934.74,205.66 L934.84,205.17 L934.95,204.68 L935.06,204.20 L935.16,203.72 L935.27,203.25 L935.37,202.79 L935.48,202.32 L935.59,201.87 L936.61,197.67 L937.63,193.83 L938.65,190.31 L939.67,187.08 L940.69,184.12 L941.71,181.39 L942.73,178.88 L943.75,176.56 L944.77,174.41 L945.80,172.43 L946.82,170.59 L947.84,168.88 L948.86,167.27 L949.88,165.77 L950.90,164.36 L951.92,163.04 L952.94,161.80 L953.96,160.63 L954.98,159.53 L956.00,158.49 L957.03,157.52 L958.05,156.60 L959.07,155.72 L960.09,154.90 L961.11,154.12 L962.13,153.37 L963.15,152.65 L964.17,151.95 L965.19,151.29 L966.21,150.65 L967.23,150.04 L968.26,149.46 L969.28,148.91 L970.30,148.39 L971.32,147.90 L972.34,147.44 L973.36,147.01 L974.38,146.60 L975.40,146.22 L976.42,145.86 L977.44,145.52 L978.46,145.21 L979.48,144.91 L980.51,144.63 L981.53,144.36 L982.55,144.10 L983.57,143.85 L984.59,143.62 L985.61,143.39 L986.63,143.18 L987.65,142.97 L988.67,142.77 L989.69,142.58 L990.71,142.39 L991.74,142.21 L992.76,142.04 L993.78,141.87 L994.80,141.70 L995.82,141.55 L996.84,141.39 L997.86,141.24 L998.88,141.10 L999.90,140.95 L1000.92,140.82 L1001.94,140.68 L1002.97,140.55 L1003.99,140.42 L1005.01,140.29 L1006.03,140.17 L1007.05,140.05 L1008.07,139.94 L1009.09,139.82 L1010.11,139.71 L1011.13,139.61 L1012.15,139.50 L1013.17,139.40 L1014.20,139.30 L1015.22,139.21 L1016.24,139.12 L1017.26,139.03 L1018.28,138.94 L1019.30,138.86 L1020.32,138.77 L1021.34,138.69 L1022.36,138.62 L1023.38,138.54 L1024.40,138.47 L1025.43,138.40 L1026.45,138.33 L1027.47,138.26 L1028.49,138.20 L1029.51,138.14 L1030.53,138.08 L1031.55,138.02 L1032.57,137.96 L1033.59,137.90 L1034.61,137.85 L1035.63,137.80 L1036.65,137.75 L1037.68,137.70 L1038.70,137.65 L1039.72,137.61 L1040.74,137.56 L1041.76,137.52 L1042.78,137.48 L1043.80,137.44 L1044.82,137.40 L1045.84,137.36 L1046.86,137.32 L1047.88,137.28 L1048.91,137.24 L1049.93,137.21 L1050.95,137.17 L1051.97,137.14 L1052.99,137.10 L1054.01,137.07 L1055.03,137.04 L1056.05,137.01 L1057.07,136.98 L1058.09,136.95 L1059.11,136.92 L1060.14,136.89 L1061.16,136.86 L1062.18,136.83 L1063.20,136.81 L1064.22,136.78 L1065.24,136.75 L1066.26,136.73 L1067.28,136.71 L1068.30,136.68 L1069.32,136.66 L1070.34,136.64 L1071.37,136.61 L1072.39,136.59 L1073.41,136.57 L1074.43,136.55 L1075.45,136.53 L1076.47,136.51 L1077.49,136.49 L1078.51,136.47 L1079.53,136.45 L1080.55,136.43 L1081.57,136.42 L1082.59,136.40 L1083.62,136.38 L1084.64,136.37 L1085.66,136.35 L1086.68,136.33 L1087.70,136.32 L1088.72,136.30 L1089.74,136.29 L1090.76,136.27 L1091.78,136.26 L1092.80,136.24 L1093.82,136.23 L1094.85,136.21 L1095.87,136.20 L1096.89,136.19 L1097.91,136.17 L1098.93,136.16 L1099.95,136.15 L1100.97,136.13 L1101.99,136.12 L1103.01,136.11 L1104.03,136.10 L1105.05,136.08 L1106.08,136.07 L1107.10,136.06 L1108.12,136.05 L1109.14,136.04 L1110.16,136.03 L1111.18,136.02 L1112.20,136.00 L1113.22,135.99 L1114.24,135.98 L1115.26,135.97 L1116.28,135.96 L1117.31,135.95 L1118.33,135.94 L1119.35,135.93 L1120.37,135.92 L1121.39,135.91 L1122.41,135.90 L1123.43,135.89 L1124.45,135.88 L1125.47,135.87 L1126.49,135.87 L1127.51,135.86 L1128.53,135.85 L1129.56,135.84 L1130.58,135.83 L1131.60,135.82 L1132.62,135.81 L1133.64,135.81 L1134.66,135.80 L1135.68,135.79 L1136.70,135.78 L1137.72,135.77 L1138.74,135.77 L1139.76,135.76 L1140.79,135.75 L1141.81,135.74 L1142.83,135.74 L1143.85,135.73 L1144.87,135.72 L1145.89,135.71 L1146.91,135.71 L1147.93,135.70 L1148.95,135.69 L1149.97,135.69 L1150.99,135.68 L1152.02,135.67 L1153.04,135.67 L1154.06,135.66 L1155.08,135.65 L1156.10,135.65 L1157.12,135.64 L1158.14,135.63 L1159.16,135.63 L1160.18,135.62 L1161.20,135.62 L1162.22,135.61 L1163.25,135.60 L1164.27,135.60 L1165.29,135.59 L1166.31,135.59 L1167.33,135.58 L1168.35,135.58 L1169.37,135.57 L1170.39,135.57 L1171.41,135.56 L1172.43,135.55 L1173.45,135.55 L1174.48,135.54 L1175.50,135.54 L1176.52,135.53 L1177.54,135.53 L1178.56,135.52 L1179.58,135.52 L1180.60,135.51 L1181.62,135.51 L1182.64,135.50 L1183.66,135.50 L1184.68,135.50 L1185.70,135.49 L1186.73,135.49 L1187.75,135.48 L1188.77,135.48 L1189.79,135.47 L1190.81,135.47 L1191.83,135.46 L1192.85,135.46 L1193.87,135.46 L1194.89,135.45 L1195.91,135.45 L1196.93,135.44 L1197.96,135.44 L1198.98,135.43 L1200.00,135.43 L1201.02,135.43 L1202.04,135.42 L1203.06,135.42 L1204.08,135.42 L1205.10,135.41 L1206.12,135.41 L1207.14,135.40 L1208.16,135.40 L1209.19,135.40 L1210.21,135.39 L1211.23,135.39 L1212.25,135.39 L1213.27,135.38 L1214.29,135.38 L1215.31,135.38 L1216.33,135.37 L1217.35,135.37 L1218.37,135.36 L1219.39,135.36 L1220.42,135.36 L1221.44,135.36 L1222.46,135.35 L1223.48,135.35 L1224.50,135.35 L1225.52,135.34 L1226.54,135.34 L1227.56,135.34 L1228.58,135.33 L1229.60,135.33 L1230.62,135.33 L1231.64,135.32 L1232.67,135.32 L1233.69,135.32 L1234.71,135.32 L1235.73,135.31 L1236.75,135.31 L1237.77,135.31 L1238.79,135.30 L1239.81,135.30 L1240.83,135.30 L1241.85,135.30 L1242.87,135.29 L1243.90,135.29 L1244.92,135.29 L1245.94,135.28 L1246.96,135.28 L1247.98,135.28 L1249.00,135.28 L1250.02,135.27 L1251.04,135.27 L1252.06,135.27 L1253.08,135.27 L1254.10,135.26 L1255.13,135.26 L1256.15,135.26 L1257.17,135.26 L1258.19,135.25 L1259.21,135.25 L1260.23,135.25 L1261.25,135.25 L1262.27,135.25 L1263.29,135.24 L1264.31,135.24 L1265.33,135.24 L1266.36,135.24 L1267.38,135.23 L1268.40,135.23 L1269.42,135.23 L1270.44,135.23 L1271.46,135.23 L1272.48,135.22 L1273.50,135.22 L1274.52,135.22 L1275.54,135.22 L1276.56,135.21 L1277.58,135.21 L1278.61,135.21 L1279.63,135.21 L1280.65,135.21 L1281.67,135.20 L1282.69,135.20 L1283.71,135.20 L1284.73,135.20 L1285.75,135.20 L1286.77,135.19 L1287.79,135.19 L1288.81,135.19 L1289.84,135.19 L1290.86,135.19 L1291.88,135.19 L1292.90,135.18 L1293.92,135.18 L1294.94,135.18 L1295.96,135.18 L1296.98,135.18 L1298.00,135.17 L1299.02,135.17 L1300.04,135.17 L1301.07,135.17 L1302.09,135.17 L1303.11,135.17 L1304.13,135.16 L1305.15,135.16 L1306.17,135.16 L1307.19,135.16 L1308.21,135.16 L1309.23,135.16 L1310.25,135.15 L1311.27,135.15 L1312.30,135.15 L1313.32,135.15 L1314.34,135.15 L1315.36,135.15 L1316.38,135.14 L1317.40,135.14 L1318.42,135.14 L1319.44,135.14 L1320.46,135.14 L1321.48,135.14 L1322.50,135.14 L1323.53,135.13 L1324.55,135.13 L1325.57,135.13 L1326.59,135.13 L1327.61,135.13 L1328.63,135.13 L1329.65,135.13 L1330.67,135.12 L1331.69,135.12 L1332.71,135.12 L1333.73,135.12 L1334.75,135.12 L1335.78,135.12 L1336.80,135.12 L1337.82,135.11 L1338.84,135.11 L1339.86,135.11 L1340.88,135.11 L1341.90,135.11 L1342.92,135.11 L1343.94,135.11 L1344.96,135.11 L1345.98,135.10 L1347.01,135.10 L1348.03,135.10 L1349.05,135.10 L1350.07,135.10 L1351.09,135.10 L1352.11,135.10 L1353.13,135.10 L1354.15,135.09 L1355.17,135.09 L1356.19,135.09 L1357.21,135.09 L1358.24,135.09 L1359.26,135.09 L1360.28,135.09 L1361.30,135.09 L1362.32,135.08 L1363.34,135.08 L1364.36,135.08 L1365.38,135.08 L1366.40,135.08 L1367.42,135.08 L1368.44,135.08 L1369.47,135.08 L1370.49,135.08 L1371.51,135.07 L1372.53,135.07 L1373.55,135.07 L1374.57,135.07 L1375.59,135.07 L1376.61,135.07 L1377.63,135.07 L1378.65,135.07 L1379.67,135.07 L1380.69,135.07 L1381.72,135.06 L1382.74,135.06 L1383.76,135.06 L1384.78,135.06 L1385.80,135.06 L1386.82,135.06 L1387.84,135.06 L1388.86,135.06 L1389.88,135.06 L1390.90,135.06 L1391.92,135.05 L1392.95,135.05 L1393.97,135.05 L1394.99,135.05 L1396.01,135.05 L1397.03,135.05 L1398.05,135.05 L1399.07,135.05 L1400.09,135.05 L1401.11,135.05 L1402.13,135.05 L1403.15,135.04 L1404.18,135.04 L1405.20,135.04 L1406.22,135.04 L1407.24,135.04 L1408.26,135.04 L1409.28,135.04 L1410.30,135.04 L1411.32,135.04 L1412.34,135.04 L1413.36,135.04 L1414.38,135.03 L1415.41,135.03 L1416.43,135.03 L1417.45,135.03 L1418.47,135.03 L1419.49,135.03 L1420.51,135.03 L1421.53,135.03 L1422.55,135.03 L1423.57,135.03 L1424.59,135.03 L1425.61,135.03 L1426.63,135.02 L1427.66,135.02 L1428.68,135.02 L1429.70,135.02 L1430.72,135.02 L1431.74,135.02 L1432.76,135.02 L1433.78,135.02 L1434.80,135.02 L1435.82,135.02 L1436.84,135.02 L1437.86,135.02 L1438.89,135.02 L1439.91,135.01 L1440.93,135.01 L1441.95,135.01 L1442.97,135.01 L1443.99,135.01 L1445.01,135.01 L1446.03,135.01 L1447.05,135.01 L1448.07,135.01 L1449.09,135.01 L1450.12,135.01 L1451.14,135.01 L1452.16,135.01 L1453.18,135.01 L1454.20,135.00 L1455.22,135.00 L1456.24,135.00 L1457.26,135.00 L1458.28,135.00 L1459.30,135.00 L1460.32,135.00 L1461.35,135.00 L1462.37,135.00 L1463.39,135.00 L1464.41,135.00 L1465.43,135.00 L1466.45,135.00 L1467.47,135.00 L1468.49,135.00 L1469.51,135.00 L1470.53,134.99 L1471.55,134.99 L1472.58,134.99 L1473.60,134.99 L1474.62,134.99 L1475.64,134.99 L1476.66,134.99 L1477.68,134.99 L1478.70,134.99 L1479.72,134.99 L1480.74,134.99 L1481.76,134.99 L1482.78,134.99 L1483.80,134.99 L1484.83,134.99 L1485.85,134.99 L1486.87,134.98 L1487.89,134.98 L1488.91,134.98 L1489.93,134.98 L1490.95,134.98 L1491.97,134.98 L1492.99,134.98 L1494.01,134.98 L1495.03,134.98 L1496.06,134.98 L1497.08,134.98 L1498.10,134.98 L1499.12,134.98 L1500.14,134.98 L1501.16,134.98 L1502.18,134.98 L1503.20,134.98 L1504.22,134.98 L1505.24,134.97 L1506.26,134.97 L1507.29,134.97 L1508.31,134.97 L1509.33,134.97 L1510.35,134.97 L1511.37,134.97 L1512.39,134.97 L1513.41,134.97 L1514.43,134.97 L1515.45,134.97 L1516.47,134.97 L1517.49,134.97 L1518.52,134.97 L1519.54,134.97 L1520.56,134.97 L1521.58,134.97 L1522.60,134.97 L1523.62,134.97 L1524.64,134.97 L1525.66,134.96 L1526.68,134.96 L1527.70,134.96 L1528.72,134.96 L1529.74,134.96 L1530.77,134.96 L1531.79,134.96 L1532.81,134.96 L1533.83,134.96 L1534.85,134.96 L1535.87,134.96 L1536.89,134.96 L1537.91,134.96 L1538.93,134.96 L1539.95,134.96 L1540.97,134.96 L1542.00,134.96 L1543.02,134.96 L1544.04,134.96 L1545.06,134.96 L1546.08,134.96 L1547.10,134.96" fill="none" stroke="#000" stroke-width="3.3" stroke-linejoin="round"/>
<path d="M914.50,411.06 L914.68,410.96 L914.85,410.66 L915.03,410.15 L915.21,409.45 L915.39,408.55 L915.56,407.45 L915.74,406.17 L915.92,404.71 L916.09,403.07 L916.27,401.26 L916.45,399.27 L916.63,397.11 L916.80,394.77 L916.98,392.26 L917.16,389.58 L917.34,386.74 L917.51,383.74 L917.69,380.60 L917.87,377.33 L918.04,373.93 L918.22,370.43 L918.40,366.83 L918.58,363.14 L918.75,359.39 L918.93,355.55 L919.11,351.62 L919.28,347.60 L919.46,343.52 L919.64,339.38 L919.82,335.20 L919.99,331.00 L920.17,326.79 L920.35,322.59 L920.52,318.41 L920.70,314.27 L920.88,310.19 L921.06,306.18 L921.23,302.25 L921.41,298.42 L921.59,294.67 L921.77,291.00 L921.94,287.41 L922.12,283.90 L922.30,280.47 L922.47,277.12 L922.65,273.85 L922.83,270.65 L923.01,267.52 L923.18,264.45 L923.36,261.45 L923.54,258.51 L923.71,255.62 L923.89,252.79 L924.07,250.00 L924.25,247.26 L924.42,244.59 L924.60,241.99 L924.78,239.46 L924.95,237.00 L925.13,234.61 L925.31,232.29 L925.49,230.03 L925.66,227.84 L925.84,225.70 L926.02,223.62 L926.20,221.60 L926.37,219.63 L926.55,217.72 L926.73,215.85 L926.90,214.02 L927.08,212.25 L927.26,210.51 L927.44,208.81 L927.61,207.16 L927.79,205.53 L927.97,203.95 L928.14,202.39 L928.32,200.86 L928.50,199.37 L928.68,197.90 L928.85,196.48 L929.03,195.08 L929.21,193.71 L929.38,192.37 L929.56,191.04 L929.74,189.74 L929.92,188.48 L930.09,187.27 L930.27,186.09 L930.45,184.95 L930.63,183.84 L930.80,182.75 L930.98,181.68 L931.16,180.63 L931.33,179.58 L931.51,178.54 L931.69,177.49 L931.87,176.44 L932.04,175.38 L932.22,174.31 L932.40,173.22 L932.57,172.11 L932.75,170.99 L932.93,169.87 L933.11,168.77 L933.28,167.69 L933.46,166.62 L933.64,165.57 L933.81,164.53 L933.99,163.51 L934.17,162.50 L934.35,161.51 L934.52,160.53 L934.70,159.57 L934.88,158.62 L935.06,157.69 L935.23,156.77 L935.41,155.87 L935.59,154.98 L935.98,153.05 L936.38,151.19 L936.77,149.40 L937.17,147.68 L937.57,146.04 L937.96,144.46 L938.36,142.95 L938.75,141.49 L939.15,140.08 L939.54,138.73 L939.94,137.42 L940.34,136.17 L940.73,134.96 L941.13,133.79 L941.52,132.67 L941.92,131.59 L942.31,130.55 L942.71,129.56 L943.11,128.60 L943.50,127.68 L943.90,126.80 L944.29,125.96 L944.69,125.15 L945.08,124.38 L945.48,123.65 L945.88,122.97 L946.27,122.33 L946.67,121.75 L947.06,121.22 L947.46,120.74 L947.85,120.32 L948.25,119.94 L948.65,119.62 L949.04,119.36 L949.44,119.15 L949.83,119.02 L950.23,118.95 L950.62,118.97 L951.02,119.08 L951.42,119.28 L951.81,119.60 L952.21,120.03 L952.60,120.61 L953.00,121.34 L953.39,122.24 L953.79,123.32 L954.19,124.60 L954.58,126.08 L954.98,127.79 L955.37,129.73 L955.77,131.90 L956.16,134.31 L956.56,136.95 L956.96,139.80 L957.35,142.85 L957.75,146.08 L958.14,149.47 L958.54,153.01 L958.93,156.67 L959.33,160.42 L959.73,164.25 L960.12,168.15 L960.52,172.08 L960.91,176.05 L961.31,180.03 L961.70,184.01 L962.10,187.98 L962.50,191.95 L962.89,195.89 L963.29,199.80 L963.68,203.68 L964.08,207.53 L964.47,211.34 L964.87,215.11 L965.27,218.84 L965.66,222.52 L966.06,226.16 L966.45,229.76 L966.85,233.31 L967.24,236.82 L967.64,240.29 L968.04,243.71 L968.43,247.08 L968.83,250.42 L969.22,253.71 L969.62,256.95 L970.01,260.16 L970.41,263.33 L970.81,266.45 L971.20,269.53 L971.60,272.58 L971.99,275.59 L972.39,278.55 L972.78,281.49 L973.18,284.38 L973.58,287.24 L973.97,290.06 L974.37,292.85 L974.76,295.61 L975.16,298.33 L975.55,301.02 L975.95,303.67 L976.35,306.30 L976.74,308.89 L977.14,311.45 L977.53,313.98 L977.93,316.48 L978.32,318.96 L978.72,321.40 L979.12,323.82 L979.51,326.21 L979.91,328.57 L980.30,330.90 L980.70,333.21 L981.09,335.49 L981.49,337.75 L981.89,339.98 L982.28,342.19 L982.68,344.37 L983.07,346.53 L983.47,348.67 L983.86,350.78 L984.26,352.87 L984.66,354.94 L985.05,356.98 L985.45,359.01 L985.84,361.01 L986.24,362.99 L986.63,364.95 L987.03,366.89 L987.43,368.81 L987.82,370.71 L988.22,372.59 L988.61,374.45 L989.01,376.30 L989.41,378.12 L989.80,379.93 L990.20,381.71 L990.59,383.48 L990.99,385.24 L991.38,386.97 L991.78,388.69 L992.18,390.39 L992.57,392.07 L992.97,393.74 L993.36,395.39 L993.76,397.03 L994.15,398.65 L994.55,400.25 L994.95,401.84 L995.34,403.41 L995.74,404.97 L996.13,406.52 L996.53,408.05 L996.92,409.56 L997.32,411.06" fill="none" stroke="#0000ff" stroke-width="3.0" stroke-dasharray="2.4,3.29" stroke-linejoin="round"/>
<path d="M914.50,411.06 L914.68,410.96 L914.85,410.66 L915.03,410.15 L915.21,409.45 L915.39,408.55 L915.56,407.45 L915.74,406.17 L915.92,404.71 L916.09,403.07 L916.27,401.26 L916.45,399.27 L916.63,397.11 L916.80,394.77 L916.98,392.26 L917.16,389.58 L917.34,386.74 L917.51,383.74 L917.69,380.60 L917.87,377.33 L918.04,373.93 L918.22,370.43 L918.40,366.83 L918.58,363.14 L918.75,359.39 L918.93,355.55 L919.11,351.62 L919.28,347.60 L919.46,343.52 L919.64,339.38 L919.82,335.20 L919.99,331.00 L920.17,326.79 L920.35,322.59 L920.52,318.41 L920.70,314.27 L920.88,310.19 L921.06,306.18 L921.23,302.25 L921.41,298.42 L921.59,294.67 L921.77,291.00 L921.94,287.41 L922.12,283.90 L922.30,280.47 L922.47,277.12 L922.65,273.85 L922.83,270.65 L923.01,267.52 L923.18,264.45 L923.36,261.45 L923.54,258.51 L923.71,255.62 L923.89,252.79 L924.07,250.00 L924.25,247.26 L924.42,244.59 L924.60,241.99 L924.78,239.46 L924.95,237.00 L925.13,234.61 L925.31,232.29 L925.49,230.03 L925.66,227.84 L925.84,225.70 L926.02,223.62 L926.20,221.60 L926.37,219.63 L926.55,217.72 L926.73,215.85 L926.90,214.02 L927.08,212.25 L927.26,210.51 L927.44,208.81 L927.61,207.16 L927.79,205.53 L927.97,203.95 L928.14,202.39 L928.32,200.86 L928.50,199.37 L928.68,197.90 L928.85,196.48 L929.03,195.08 L929.21,193.71 L929.38,192.37 L929.56,191.04 L929.74,189.74 L929.92,188.48 L930.09,187.27 L930.27,186.09 L930.45,184.95 L930.63,183.84 L930.80,182.75 L930.98,181.68 L931.16,180.63 L931.33,179.58 L931.51,178.54 L931.69,177.49 L931.87,176.44 L932.04,175.38 L932.22,174.31 L932.40,173.22 L932.57,172.11 L932.75,170.98 L932.93,169.87 L933.11,168.77 L933.28,167.69 L933.46,166.62 L933.64,165.57 L933.81,164.53 L933.99,163.51 L934.17,162.50 L934.35,161.51 L934.52,160.53 L934.70,159.57 L934.88,158.62 L935.06,157.69 L935.23,156.77 L935.41,155.87 L935.59,154.98 L936.12,152.41 L936.64,149.97 L937.17,147.66 L937.70,145.48 L938.23,143.41 L938.76,141.45 L939.29,139.58 L939.82,137.80 L940.35,136.11 L940.88,134.50 L941.41,132.96 L941.93,131.50 L942.46,130.11 L942.99,128.79 L943.52,127.54 L944.05,126.34 L944.58,125.21 L945.11,124.13 L945.64,123.11 L946.17,122.16 L946.70,121.28 L947.22,120.47 L947.75,119.72 L948.28,119.02 L948.81,118.37 L949.34,117.75 L949.87,117.17 L950.40,116.63 L950.93,116.10 L951.46,115.60 L951.99,115.12 L952.51,114.64 L953.04,114.18 L953.57,113.73 L954.10,113.27 L954.63,112.82 L955.16,112.38 L955.69,111.95 L956.22,111.54 L956.75,111.14 L957.27,110.76 L957.80,110.38 L958.33,110.02 L958.86,109.67 L959.39,109.33 L959.92,109.01 L960.45,108.69 L960.98,108.38 L961.51,108.08 L962.04,107.79 L962.56,107.50 L963.09,107.23 L963.62,106.96 L964.15,106.70 L964.68,106.45 L965.21,106.20 L965.74,105.96 L966.27,105.72 L966.80,105.49 L967.33,105.27 L967.85,105.05 L968.38,104.83 L968.91,104.62 L969.44,104.42 L969.97,104.22 L970.50,104.02 L971.03,103.83 L971.56,103.64 L972.09,103.46 L972.62,103.28 L973.14,103.10 L973.67,102.93 L974.20,102.76 L974.73,102.60 L975.26,102.44 L975.79,102.28 L976.32,102.13 L976.85,101.97 L977.38,101.83 L977.91,101.68 L978.43,101.54 L978.96,101.41 L979.49,101.27 L980.02,101.14 L980.55,101.02 L981.08,100.89 L981.61,100.77 L982.14,100.65 L982.67,100.54 L983.19,100.43 L983.72,100.32 L984.25,100.22 L984.78,100.12 L985.31,100.03 L985.84,99.94 L986.37,99.85 L986.90,99.78 L987.43,99.71 L987.96,99.65 L988.48,99.60 L989.01,99.56 L989.54,99.54 L990.07,99.53 L990.60,99.55 L991.13,99.60 L991.66,99.68 L992.19,99.81 L992.72,99.99 L993.25,100.23 L993.77,100.55 L994.30,100.97 L994.83,101.50 L995.36,102.17 L995.89,102.99 L996.42,103.98 L996.95,105.17 L997.48,106.57 L998.01,108.19 L998.54,110.03 L999.06,112.09 L999.59,114.36 L1000.12,116.83 L1000.65,119.46 L1001.18,122.24 L1001.71,125.14 L1002.24,128.14 L1002.77,131.22 L1003.30,134.35 L1003.83,137.51 L1004.35,140.71 L1004.88,143.91 L1005.41,147.12 L1005.94,150.32 L1006.47,153.50 L1007.00,156.67 L1007.53,159.82 L1008.06,162.95 L1008.59,166.05 L1009.11,169.12 L1009.64,172.17 L1010.17,175.19 L1010.70,178.17 L1011.23,181.13 L1011.76,184.06 L1012.29,186.96 L1012.82,189.83 L1013.35,192.67 L1013.88,195.48 L1014.40,198.26 L1014.93,201.01 L1015.46,203.74 L1015.99,206.44 L1016.52,209.11 L1017.05,211.75 L1017.58,214.37 L1018.11,216.96 L1018.64,219.52 L1019.17,222.06 L1019.69,224.58 L1020.22,227.07 L1020.75,229.53 L1021.28,231.97 L1021.81,234.39 L1022.34,236.78 L1022.87,239.15 L1023.40,241.50 L1023.93,243.83 L1024.46,246.13 L1024.98,248.41 L1025.51,250.67 L1026.04,252.91 L1026.57,255.13 L1027.10,257.33 L1027.63,259.50 L1028.16,261.66 L1028.69,263.80 L1029.22,265.92 L1029.75,268.02 L1030.27,270.10 L1030.80,272.16 L1031.33,274.20 L1031.86,276.23 L1032.39,278.24 L1032.92,280.23 L1033.45,282.20 L1033.98,284.16 L1034.51,286.09 L1035.03,288.02 L1035.56,289.92 L1036.09,291.81 L1036.62,293.68 L1037.15,295.54 L1037.68,297.38 L1038.21,299.21 L1038.74,301.02 L1039.27,302.82 L1039.80,304.60 L1040.32,306.36 L1040.85,308.11 L1041.38,309.85 L1041.91,311.58 L1042.44,313.28 L1042.97,314.98 L1043.50,316.66 L1044.03,318.33 L1044.56,319.99 L1045.09,321.63 L1045.61,323.26 L1046.14,324.87 L1046.67,326.48 L1047.20,328.07 L1047.73,329.64 L1048.26,331.21 L1048.79,332.76 L1049.32,334.31 L1049.85,335.84 L1050.38,337.35 L1050.90,338.86 L1051.43,340.36 L1051.96,341.84 L1052.49,343.31 L1053.02,344.78 L1053.55,346.23 L1054.08,347.67 L1054.61,349.10 L1055.14,350.51 L1055.67,351.92 L1056.19,353.32 L1056.72,354.71 L1057.25,356.08 L1057.78,357.45 L1058.31,358.81 L1058.84,360.16 L1059.37,361.49 L1059.90,362.82 L1060.43,364.14 L1060.95,365.45 L1061.48,366.75 L1062.01,368.04 L1062.54,369.32 L1063.07,370.59 L1063.60,371.86 L1064.13,373.11 L1064.66,374.36 L1065.19,375.60 L1065.72,376.82 L1066.24,378.04 L1066.77,379.26 L1067.30,380.46 L1067.83,381.65 L1068.36,382.84 L1068.89,384.02 L1069.42,385.19 L1069.95,386.35 L1070.48,387.51 L1071.01,388.65 L1071.53,389.79 L1072.06,390.92 L1072.59,392.05 L1073.12,393.16 L1073.65,394.27 L1074.18,395.38 L1074.71,396.47 L1075.24,397.56 L1075.77,398.64 L1076.30,399.71 L1076.82,400.78 L1077.35,401.84 L1077.88,402.89 L1078.41,403.93 L1078.94,404.97 L1079.47,406.00 L1080.00,407.03 L1080.53,408.05 L1081.06,409.06 L1081.59,410.07 L1082.11,411.06" fill="none" stroke="#006400" stroke-width="3.3" stroke-dasharray="7.3,1.6,1.4,1.8" stroke-linejoin="round"/>
<path d="M914.50,411.06 L914.68,410.96 L914.85,410.66 L915.03,410.15 L915.21,409.45 L915.39,408.55 L915.56,407.45 L915.74,406.17 L915.92,404.71 L916.09,403.07 L916.27,401.26 L916.45,399.27 L916.63,397.11 L916.80,394.77 L916.98,392.26 L917.16,389.58 L917.34,386.74 L917.51,383.74 L917.69,380.60 L917.87,377.33 L918.04,373.93 L918.22,370.43 L918.40,366.83 L918.58,363.14 L918.75,359.39 L918.93,355.55 L919.11,351.62 L919.28,347.60 L919.46,343.52 L919.64,339.38 L919.82,335.20 L919.99,331.00 L920.17,326.79 L920.35,322.59 L920.52,318.41 L920.70,314.27 L920.88,310.19 L921.06,306.18 L921.23,302.25 L921.41,298.42 L921.59,294.67 L921.77,291.00 L921.94,287.41 L922.12,283.90 L922.30,280.47 L922.47,277.12 L922.65,273.85 L922.83,270.65 L923.01,267.52 L923.18,264.45 L923.36,261.45 L923.54,258.51 L923.71,255.62 L923.89,252.79 L924.07,250.00 L924.25,247.26 L924.42,244.59 L924.60,241.99 L924.78,239.46 L924.95,237.00 L925.13,234.61 L925.31,232.29 L925.49,230.03 L925.66,227.84 L925.84,225.70 L926.02,223.62 L926.20,221.60 L926.37,219.63 L926.55,217.72 L926.73,215.85 L926.90,214.02 L927.08,212.25 L927.26,210.51 L927.44,208.81 L927.61,207.16 L927.79,205.53 L927.97,203.95 L928.14,202.39 L928.32,200.86 L928.50,199.37 L928.68,197.90 L928.85,196.48 L929.03,195.08 L929.21,193.71 L929.38,192.37 L929.56,191.04 L929.74,189.74 L929.92,188.48 L930.09,187.27 L930.27,186.09 L930.45,184.95 L930.63,183.84 L930.80,182.75 L930.98,181.68 L931.16,180.63 L931.33,179.58 L931.51,178.54 L931.69,177.49 L931.87,176.44 L932.04,175.38 L932.22,174.31 L932.40,173.22 L932.57,172.11 L932.75,170.98 L932.93,169.87 L933.11,168.77 L933.28,167.69 L933.46,166.62 L933.64,165.57 L933.81,164.53 L933.99,163.51 L934.17,162.50 L934.35,161.51 L934.52,160.53 L934.70,159.57 L934.88,158.62 L935.06,157.69 L935.23,156.77 L935.41,155.87 L935.59,154.98 L936.21,151.95 L936.84,149.10 L937.47,146.43 L938.10,143.93 L938.72,141.58 L939.35,139.37 L939.98,137.28 L940.61,135.31 L941.23,133.45 L941.86,131.70 L942.49,130.05 L943.12,128.49 L943.74,127.03 L944.37,125.65 L945.00,124.35 L945.63,123.13 L946.25,122.01 L946.88,120.99 L947.51,120.06 L948.13,119.21 L948.76,118.43 L949.39,117.70 L950.02,117.02 L950.64,116.38 L951.27,115.77 L951.90,115.19 L952.53,114.63 L953.15,114.09 L953.78,113.55 L954.41,113.01 L955.04,112.48 L955.66,111.97 L956.29,111.48 L956.92,111.01 L957.55,110.56 L958.17,110.13 L958.80,109.71 L959.43,109.31 L960.06,108.92 L960.68,108.55 L961.31,108.19 L961.94,107.84 L962.57,107.50 L963.19,107.18 L963.82,106.86 L964.45,106.56 L965.07,106.26 L965.70,105.97 L966.33,105.69 L966.96,105.42 L967.58,105.16 L968.21,104.90 L968.84,104.65 L969.47,104.41 L970.09,104.17 L970.72,103.94 L971.35,103.72 L971.98,103.50 L972.60,103.28 L973.23,103.07 L973.86,102.87 L974.49,102.67 L975.11,102.48 L975.74,102.29 L976.37,102.11 L977.00,101.93 L977.62,101.76 L978.25,101.59 L978.88,101.43 L979.50,101.27 L980.13,101.11 L980.76,100.96 L981.39,100.81 L982.01,100.67 L982.64,100.53 L983.27,100.40 L983.90,100.27 L984.52,100.14 L985.15,100.02 L985.78,99.90 L986.41,99.78 L987.03,99.67 L987.66,99.56 L988.29,99.46 L988.92,99.35 L989.54,99.26 L990.17,99.16 L990.80,99.07 L991.43,98.98 L992.05,98.90 L992.68,98.81 L993.31,98.73 L993.94,98.66 L994.56,98.58 L995.19,98.51 L995.82,98.44 L996.44,98.38 L997.07,98.31 L997.70,98.25 L998.33,98.19 L998.95,98.13 L999.58,98.07 L1000.21,98.02 L1000.84,97.96 L1001.46,97.91 L1002.09,97.86 L1002.72,97.81 L1003.35,97.76 L1003.97,97.72 L1004.60,97.67 L1005.23,97.62 L1005.86,97.58 L1006.48,97.54 L1007.11,97.50 L1007.74,97.46 L1008.37,97.42 L1008.99,97.38 L1009.62,97.34 L1010.25,97.30 L1010.88,97.26 L1011.50,97.23 L1012.13,97.19 L1012.76,97.15 L1013.38,97.12 L1014.01,97.08 L1014.64,97.05 L1015.27,97.02 L1015.89,96.98 L1016.52,96.95 L1017.15,96.91 L1017.78,96.88 L1018.40,96.85 L1019.03,96.82 L1019.66,96.78 L1020.29,96.75 L1020.91,96.72 L1021.54,96.69 L1022.17,96.66 L1022.80,96.63 L1023.42,96.60 L1024.05,96.57 L1024.68,96.55 L1025.31,96.52 L1025.93,96.50 L1026.56,96.48 L1027.19,96.46 L1027.81,96.43 L1028.44,96.41 L1029.07,96.40 L1029.70,96.38 L1030.32,96.36 L1030.95,96.35 L1031.58,96.33 L1032.21,96.32 L1032.83,96.30 L1033.46,96.29 L1034.09,96.28 L1034.72,96.27 L1035.34,96.26 L1035.97,96.25 L1036.60,96.24 L1037.23,96.24 L1037.85,96.23 L1038.48,96.23 L1039.11,96.22 L1039.74,96.22 L1040.36,96.21 L1040.99,96.21 L1041.62,96.21 L1042.25,96.21 L1042.87,96.21 L1043.50,96.21 L1044.13,96.21 L1044.75,96.22 L1045.38,96.22 L1046.01,96.22 L1046.64,96.23 L1047.26,96.23 L1047.89,96.24 L1048.52,96.24 L1049.15,96.25 L1049.77,96.26 L1050.40,96.26 L1051.03,96.27 L1051.66,96.28 L1052.28,96.29 L1052.91,96.30 L1053.54,96.31 L1054.17,96.32 L1054.79,96.33 L1055.42,96.34 L1056.05,96.36 L1056.68,96.37 L1057.30,96.38 L1057.93,96.39 L1058.56,96.41 L1059.19,96.42 L1059.81,96.43 L1060.44,96.45 L1061.07,96.46 L1061.69,96.48 L1062.32,96.50 L1062.95,96.52 L1063.58,96.54 L1064.20,96.56 L1064.83,96.58 L1065.46,96.60 L1066.09,96.63 L1066.71,96.65 L1067.34,96.68 L1067.97,96.70 L1068.60,96.73 L1069.22,96.76 L1069.85,96.79 L1070.48,96.82 L1071.11,96.85 L1071.73,96.88 L1072.36,96.91 L1072.99,96.94 L1073.62,96.98 L1074.24,97.01 L1074.87,97.04 L1075.50,97.08 L1076.13,97.11 L1076.75,97.15 L1077.38,97.18 L1078.01,97.22 L1078.63,97.26 L1079.26,97.29 L1079.89,97.33 L1080.52,97.37 L1081.14,97.41 L1081.77,97.45 L1082.40,97.48 L1083.03,97.52 L1083.65,97.56 L1084.28,97.60 L1084.91,97.64 L1085.54,97.68 L1086.16,97.72 L1086.79,97.76 L1087.42,97.80 L1088.05,97.84 L1088.67,97.88 L1089.30,97.92 L1089.93,97.96 L1090.56,97.99 L1091.18,98.03 L1091.81,98.07 L1092.44,98.11 L1093.06,98.15 L1093.69,98.19 L1094.32,98.23 L1094.95,98.26 L1095.57,98.30 L1096.20,98.34 L1096.83,98.38 L1097.46,98.41 L1098.08,98.45 L1098.71,98.48 L1099.34,98.52 L1099.97,98.55 L1100.59,98.59 L1101.22,98.62 L1101.85,98.65 L1102.48,98.69 L1103.10,98.72 L1103.73,98.75 L1104.36,98.78 L1104.99,98.81 L1105.61,98.84 L1106.24,98.87 L1106.87,98.90 L1107.50,98.93 L1108.12,98.95 L1108.75,98.98 L1109.38,99.00 L1110.00,99.03 L1110.63,99.05 L1111.26,99.08 L1111.89,99.10 L1112.51,99.13 L1113.14,99.15 L1113.77,99.18 L1114.40,99.21 L1115.02,99.24 L1115.65,99.27 L1116.28,99.30 L1116.91,99.35 L1117.53,99.40 L1118.16,99.47 L1118.79,99.55 L1119.42,99.66 L1120.04,99.79 L1120.67,99.96 L1121.30,100.18 L1121.93,100.46 L1122.55,100.82 L1123.18,101.26 L1123.81,101.80 L1124.44,102.45 L1125.06,103.23 L1125.69,104.14 L1126.32,105.18 L1126.94,106.35 L1127.57,107.62 L1128.20,109.00 L1128.83,110.46 L1129.45,112.00 L1130.08,113.58 L1130.71,115.21 L1131.34,116.87 L1131.96,118.55 L1132.59,120.24 L1133.22,121.94 L1133.85,123.65 L1134.47,125.35 L1135.10,127.06 L1135.73,128.76 L1136.36,130.46 L1136.98,132.15 L1137.61,133.83 L1138.24,135.50 L1138.87,137.17 L1139.49,138.83 L1140.12,140.48 L1140.75,142.12 L1141.38,143.75 L1142.00,145.38 L1142.63,146.99 L1143.26,148.60 L1143.88,150.20 L1144.51,151.79 L1145.14,153.37 L1145.77,154.94 L1146.39,156.50 L1147.02,158.06 L1147.65,159.60 L1148.28,161.14 L1148.90,162.67 L1149.53,164.19 L1150.16,165.71 L1150.79,167.21 L1151.41,168.71 L1152.04,170.20 L1152.67,171.68 L1153.30,173.16 L1153.92,174.62 L1154.55,176.08 L1155.18,177.53 L1155.81,178.97 L1156.43,180.41 L1157.06,181.84 L1157.69,183.26 L1158.31,184.67 L1158.94,186.08 L1159.57,187.48 L1160.20,188.87 L1160.82,190.26 L1161.45,191.63 L1162.08,193.00 L1162.71,194.37 L1163.33,195.72 L1163.96,197.07 L1164.59,198.42 L1165.22,199.75 L1165.84,201.08 L1166.47,202.41 L1167.10,203.72 L1167.73,205.03 L1168.35,206.34 L1168.98,207.63 L1169.61,208.92 L1170.24,210.21 L1170.86,211.49 L1171.49,212.76 L1172.12,214.02 L1172.75,215.28 L1173.37,216.53 L1174.00,217.78 L1174.63,219.02 L1175.25,220.26 L1175.88,221.49 L1176.51,222.71 L1177.14,223.93 L1177.76,225.14 L1178.39,226.34 L1179.02,227.54 L1179.65,228.74 L1180.27,229.92 L1180.90,231.11 L1181.53,232.28 L1182.16,233.46 L1182.78,234.62 L1183.41,235.78 L1184.04,236.94 L1184.67,238.09 L1185.29,239.23 L1185.92,240.37 L1186.55,241.50 L1187.18,242.63 L1187.80,243.76 L1188.43,244.87 L1189.06,245.99 L1189.69,247.09 L1190.31,248.20 L1190.94,249.29 L1191.57,250.39 L1192.19,251.48 L1192.82,252.56 L1193.45,253.64 L1194.08,254.71 L1194.70,255.78 L1195.33,256.84 L1195.96,257.90 L1196.59,258.95 L1197.21,260.00 L1197.84,261.05 L1198.47,262.09 L1199.10,263.12 L1199.72,264.15 L1200.35,265.18 L1200.98,266.20 L1201.61,267.21 L1202.23,268.23 L1202.86,269.23 L1203.49,270.24 L1204.12,271.24 L1204.74,272.23 L1205.37,273.22 L1206.00,274.21 L1206.62,275.19 L1207.25,276.17 L1207.88,277.14 L1208.51,278.11 L1209.13,279.08 L1209.76,280.04 L1210.39,280.99 L1211.02,281.94 L1211.64,282.89 L1212.27,283.84 L1212.90,284.78 L1213.53,285.71 L1214.15,286.65 L1214.78,287.58 L1215.41,288.50 L1216.04,289.42 L1216.66,290.34 L1217.29,291.25 L1217.92,292.16 L1218.55,293.06 L1219.17,293.97 L1219.80,294.86 L1220.43,295.76 L1221.06,296.65 L1221.68,297.53 L1222.31,298.42 L1222.94,299.30 L1223.56,300.17 L1224.19,301.04 L1224.82,301.91 L1225.45,302.78 L1226.07,303.64 L1226.70,304.50 L1227.33,305.35 L1227.96,306.20 L1228.58,307.05 L1229.21,307.89 L1229.84,308.73 L1230.47,309.57 L1231.09,310.40 L1231.72,311.21 L1232.35,312.01 L1232.98,312.81 L1233.60,313.60 L1234.23,314.39 L1234.86,315.18 L1235.49,315.97 L1236.11,316.75 L1236.74,317.53 L1237.37,318.31 L1238.00,319.08 L1238.62,319.86 L1239.25,320.62 L1239.88,321.39 L1240.50,322.15 L1241.13,322.91 L1241.76,323.67 L1242.39,324.42 L1243.01,325.17 L1243.64,325.92 L1244.27,326.66 L1244.90,327.40 L1245.52,328.14 L1246.15,328.88 L1246.78,329.61 L1247.41,330.34 L1248.03,331.07 L1248.66,331.79 L1249.29,332.52 L1249.92,333.24 L1250.54,333.95 L1251.17,334.67 L1251.80,335.38 L1252.43,336.08 L1253.05,336.79 L1253.68,337.49 L1254.31,338.19 L1254.94,338.89 L1255.56,339.59 L1256.19,340.28 L1256.82,340.97 L1257.44,341.65 L1258.07,342.34 L1258.70,343.02 L1259.33,343.70 L1259.95,344.37 L1260.58,345.05 L1261.21,345.72 L1261.84,346.39 L1262.46,347.06 L1263.09,347.72 L1263.72,348.38 L1264.35,349.04 L1264.97,349.70 L1265.60,350.35 L1266.23,351.00 L1266.86,351.65 L1267.48,352.30 L1268.11,352.94 L1268.74,353.58 L1269.37,354.22 L1269.99,354.86 L1270.62,355.49 L1271.25,356.12 L1271.87,356.75 L1272.50,357.38 L1273.13,358.01 L1273.76,358.63 L1274.38,359.25 L1275.01,359.87 L1275.64,360.48 L1276.27,361.10 L1276.89,361.71 L1277.52,362.32 L1278.15,362.93 L1278.78,363.53 L1279.40,364.13 L1280.03,364.73 L1280.66,365.33 L1281.29,365.93 L1281.91,366.52 L1282.54,367.11 L1283.17,367.70 L1283.80,368.29 L1284.42,368.88 L1285.05,369.46 L1285.68,370.04 L1286.31,370.62 L1286.93,371.20 L1287.56,371.77 L1288.19,372.35 L1288.81,372.92 L1289.44,373.49 L1290.07,374.05 L1290.70,374.62 L1291.32,375.18 L1291.95,375.74 L1292.58,376.30 L1293.21,376.86 L1293.83,377.42 L1294.46,377.97 L1295.09,378.52 L1295.72,379.07 L1296.34,379.62 L1296.97,380.16 L1297.60,380.71 L1298.23,381.25 L1298.85,381.79 L1299.48,382.33 L1300.11,382.86 L1300.74,383.40 L1301.36,383.93 L1301.99,384.46 L1302.62,384.99 L1303.25,385.52 L1303.87,386.04 L1304.50,386.57 L1305.13,387.09 L1305.75,387.61 L1306.38,388.13 L1307.01,388.64 L1307.64,389.16 L1308.26,389.67 L1308.89,390.18 L1309.52,390.69 L1310.15,391.20 L1310.77,391.70 L1311.40,392.21 L1312.03,392.71 L1312.66,393.21 L1313.28,393.71 L1313.91,394.21 L1314.54,394.71 L1315.17,395.20 L1315.79,395.69 L1316.42,396.18 L1317.05,396.67 L1317.68,397.16 L1318.30,397.65 L1318.93,398.13 L1319.56,398.61 L1320.19,399.09 L1320.81,399.57 L1321.44,400.05 L1322.07,400.53 L1322.69,401.00 L1323.32,401.48 L1323.95,401.95 L1324.58,402.42 L1325.20,402.89 L1325.83,403.35 L1326.46,403.82 L1327.09,404.28 L1327.71,404.75 L1328.34,405.21 L1328.97,405.67 L1329.60,406.12 L1330.22,406.58 L1330.85,407.04 L1331.48,407.49 L1332.11,407.94 L1332.73,408.39 L1333.36,408.84 L1333.99,409.29 L1334.62,409.74 L1335.24,410.18 L1335.87,410.62 L1336.50,411.06" fill="none" stroke="#ffa500" stroke-width="3.3" stroke-dasharray="4.8,1.87" stroke-linejoin="round"/>
<path d="M914.50,411.06 L914.68,410.96 L914.85,410.66 L915.03,410.15 L915.21,409.45 L915.39,408.55 L915.56,407.45 L915.74,406.17 L915.92,404.71 L916.09,403.07 L916.27,401.26 L916.45,399.27 L916.63,397.11 L916.80,394.77 L916.98,392.26 L917.16,389.58 L917.34,386.74 L917.51,383.74 L917.69,380.60 L917.87,377.33 L918.04,373.93 L918.22,370.43 L918.40,366.83 L918.58,363.14 L918.75,359.39 L918.93,355.55 L919.11,351.62 L919.28,347.60 L919.46,343.52 L919.64,339.38 L919.82,335.20 L919.99,331.00 L920.17,326.79 L920.35,322.59 L920.52,318.41 L920.70,314.27 L920.88,310.19 L921.06,306.18 L921.23,302.25 L921.41,298.42 L921.59,294.67 L921.77,291.00 L921.94,287.41 L922.12,283.90 L922.30,280.47 L922.47,277.12 L922.65,273.85 L922.83,270.65 L923.01,267.52 L923.18,264.45 L923.36,261.45 L923.54,258.51 L923.71,255.62 L923.89,252.79 L924.07,250.00 L924.25,247.26 L924.42,244.59 L924.60,241.99 L924.78,239.46 L924.95,237.00 L925.13,234.61 L925.31,232.29 L925.49,230.03 L925.66,227.84 L925.84,225.70 L926.02,223.62 L926.20,221.60 L926.37,219.63 L926.55,217.72 L926.73,215.85 L926.90,214.02 L927.08,212.25 L927.26,210.51 L927.44,208.81 L927.61,207.16 L927.79,205.53 L927.97,203.95 L928.14,202.39 L928.32,200.86 L928.50,199.37 L928.68,197.90 L928.85,196.48 L929.03,195.08 L929.21,193.71 L929.38,192.37 L929.56,191.04 L929.74,189.74 L929.92,188.48 L930.09,187.27 L930.27,186.09 L930.45,184.95 L930.63,183.84 L930.80,182.75 L930.98,181.68 L931.16,180.63 L931.33,179.58 L931.51,178.54 L931.69,177.49 L931.87,176.44 L932.04,175.38 L932.22,174.31 L932.40,173.22 L932.57,172.11 L932.75,170.98 L932.93,169.87 L933.11,168.77 L933.28,167.69 L933.46,166.62 L933.64,165.57 L933.81,164.53 L933.99,163.51 L934.17,162.50 L934.35,161.51 L934.52,160.53 L934.70,159.57 L934.88,158.62 L935.06,157.69 L935.23,156.77 L935.41,155.87 L935.59,154.98 L936.24,151.83 L936.89,148.88 L937.54,146.13 L938.19,143.56 L938.85,141.14 L939.50,138.87 L940.15,136.73 L940.80,134.72 L941.45,132.82 L942.11,131.04 L942.76,129.37 L943.41,127.80 L944.06,126.32 L944.71,124.93 L945.37,123.63 L946.02,122.42 L946.67,121.33 L947.32,120.33 L947.97,119.42 L948.62,118.59 L949.28,117.82 L949.93,117.11 L950.58,116.44 L951.23,115.81 L951.88,115.21 L952.54,114.62 L953.19,114.06 L953.84,113.50 L954.49,112.94 L955.14,112.39 L955.80,111.87 L956.45,111.37 L957.10,110.88 L957.75,110.42 L958.40,109.98 L959.05,109.55 L959.71,109.14 L960.36,108.74 L961.01,108.36 L961.66,107.99 L962.31,107.64 L962.97,107.29 L963.62,106.96 L964.27,106.64 L964.92,106.33 L965.57,106.03 L966.23,105.74 L966.88,105.46 L967.53,105.18 L968.18,104.91 L968.83,104.66 L969.48,104.40 L970.14,104.16 L970.79,103.92 L971.44,103.68 L972.09,103.46 L972.74,103.24 L973.40,103.02 L974.05,102.81 L974.70,102.61 L975.35,102.41 L976.00,102.22 L976.66,102.03 L977.31,101.85 L977.96,101.67 L978.61,101.50 L979.26,101.33 L979.92,101.17 L980.57,101.01 L981.22,100.85 L981.87,100.70 L982.52,100.56 L983.17,100.42 L983.83,100.28 L984.48,100.15 L985.13,100.02 L985.78,99.90 L986.43,99.78 L987.09,99.66 L987.74,99.55 L988.39,99.44 L989.04,99.33 L989.69,99.23 L990.35,99.14 L991.00,99.04 L991.65,98.95 L992.30,98.86 L992.95,98.78 L993.60,98.70 L994.26,98.62 L994.91,98.54 L995.56,98.47 L996.21,98.40 L996.86,98.33 L997.52,98.27 L998.17,98.20 L998.82,98.14 L999.47,98.08 L1000.12,98.02 L1000.78,97.97 L1001.43,97.91 L1002.08,97.86 L1002.73,97.81 L1003.38,97.76 L1004.04,97.71 L1004.69,97.66 L1005.34,97.62 L1005.99,97.57 L1006.64,97.53 L1007.29,97.49 L1007.95,97.44 L1008.60,97.40 L1009.25,97.36 L1009.90,97.32 L1010.55,97.28 L1011.21,97.24 L1011.86,97.21 L1012.51,97.17 L1013.16,97.13 L1013.81,97.10 L1014.47,97.06 L1015.12,97.02 L1015.77,96.99 L1016.42,96.95 L1017.07,96.92 L1017.72,96.88 L1018.38,96.85 L1019.03,96.82 L1019.68,96.78 L1020.33,96.75 L1020.98,96.71 L1021.64,96.68 L1022.29,96.64 L1022.94,96.61 L1023.59,96.58 L1024.24,96.54 L1024.90,96.51 L1025.55,96.48 L1026.20,96.44 L1026.85,96.41 L1027.50,96.38 L1028.16,96.35 L1028.81,96.32 L1029.46,96.28 L1030.11,96.25 L1030.76,96.22 L1031.41,96.19 L1032.07,96.16 L1032.72,96.13 L1033.37,96.10 L1034.02,96.07 L1034.67,96.04 L1035.33,96.02 L1035.98,95.99 L1036.63,95.96 L1037.28,95.93 L1037.93,95.91 L1038.59,95.88 L1039.24,95.86 L1039.89,95.83 L1040.54,95.81 L1041.19,95.78 L1041.84,95.76 L1042.50,95.74 L1043.15,95.72 L1043.80,95.69 L1044.45,95.67 L1045.10,95.65 L1045.76,95.63 L1046.41,95.61 L1047.06,95.60 L1047.71,95.58 L1048.36,95.56 L1049.02,95.54 L1049.67,95.53 L1050.32,95.51 L1050.97,95.49 L1051.62,95.48 L1052.28,95.47 L1052.93,95.45 L1053.58,95.44 L1054.23,95.43 L1054.88,95.42 L1055.53,95.41 L1056.19,95.40 L1056.84,95.39 L1057.49,95.38 L1058.14,95.37 L1058.79,95.36 L1059.45,95.35 L1060.10,95.35 L1060.75,95.34 L1061.40,95.34 L1062.05,95.33 L1062.71,95.33 L1063.36,95.33 L1064.01,95.32 L1064.66,95.32 L1065.31,95.32 L1065.96,95.32 L1066.62,95.31 L1067.27,95.31 L1067.92,95.31 L1068.57,95.31 L1069.22,95.31 L1069.88,95.31 L1070.53,95.31 L1071.18,95.32 L1071.83,95.32 L1072.48,95.32 L1073.14,95.32 L1073.79,95.33 L1074.44,95.33 L1075.09,95.33 L1075.74,95.34 L1076.40,95.34 L1077.05,95.34 L1077.70,95.35 L1078.35,95.35 L1079.00,95.36 L1079.65,95.36 L1080.31,95.37 L1080.96,95.38 L1081.61,95.38 L1082.26,95.39 L1082.91,95.40 L1083.57,95.40 L1084.22,95.41 L1084.87,95.42 L1085.52,95.43 L1086.17,95.43 L1086.83,95.44 L1087.48,95.45 L1088.13,95.46 L1088.78,95.47 L1089.43,95.48 L1090.08,95.48 L1090.74,95.49 L1091.39,95.50 L1092.04,95.51 L1092.69,95.52 L1093.34,95.53 L1094.00,95.54 L1094.65,95.55 L1095.30,95.56 L1095.95,95.57 L1096.60,95.58 L1097.26,95.59 L1097.91,95.61 L1098.56,95.62 L1099.21,95.63 L1099.86,95.64 L1100.51,95.65 L1101.17,95.66 L1101.82,95.67 L1102.47,95.68 L1103.12,95.70 L1103.77,95.71 L1104.43,95.72 L1105.08,95.73 L1105.73,95.74 L1106.38,95.76 L1107.03,95.77 L1107.69,95.78 L1108.34,95.79 L1108.99,95.80 L1109.64,95.82 L1110.29,95.83 L1110.95,95.84 L1111.60,95.86 L1112.25,95.87 L1112.90,95.88 L1113.55,95.89 L1114.20,95.91 L1114.86,95.92 L1115.51,95.93 L1116.16,95.95 L1116.81,95.96 L1117.46,95.97 L1118.12,95.98 L1118.77,96.00 L1119.42,96.01 L1120.07,96.02 L1120.72,96.04 L1121.38,96.05 L1122.03,96.06 L1122.68,96.08 L1123.33,96.09 L1123.98,96.10 L1124.63,96.11 L1125.29,96.13 L1125.94,96.14 L1126.59,96.15 L1127.24,96.17 L1127.89,96.18 L1128.55,96.19 L1129.20,96.21 L1129.85,96.22 L1130.50,96.23 L1131.15,96.24 L1131.81,96.26 L1132.46,96.27 L1133.11,96.28 L1133.76,96.30 L1134.41,96.31 L1135.07,96.32 L1135.72,96.34 L1136.37,96.35 L1137.02,96.36 L1137.67,96.38 L1138.32,96.39 L1138.98,96.40 L1139.63,96.42 L1140.28,96.43 L1140.93,96.44 L1141.58,96.46 L1142.24,96.47 L1142.89,96.48 L1143.54,96.50 L1144.19,96.51 L1144.84,96.52 L1145.50,96.54 L1146.15,96.55 L1146.80,96.56 L1147.45,96.58 L1148.10,96.59 L1148.75,96.61 L1149.41,96.62 L1150.06,96.63 L1150.71,96.65 L1151.36,96.66 L1152.01,96.68 L1152.67,96.69 L1153.32,96.70 L1153.97,96.72 L1154.62,96.73 L1155.27,96.75 L1155.93,96.76 L1156.58,96.78 L1157.23,96.79 L1157.88,96.80 L1158.53,96.82 L1159.19,96.83 L1159.84,96.85 L1160.49,96.86 L1161.14,96.88 L1161.79,96.89 L1162.44,96.91 L1163.10,96.92 L1163.75,96.94 L1164.40,96.95 L1165.05,96.97 L1165.70,96.98 L1166.36,97.00 L1167.01,97.02 L1167.66,97.03 L1168.31,97.05 L1168.96,97.06 L1169.62,97.08 L1170.27,97.09 L1170.92,97.11 L1171.57,97.13 L1172.22,97.14 L1172.87,97.16 L1173.53,97.17 L1174.18,97.19 L1174.83,97.21 L1175.48,97.22 L1176.13,97.24 L1176.79,97.26 L1177.44,97.27 L1178.09,97.29 L1178.74,97.31 L1179.39,97.32 L1180.05,97.34 L1180.70,97.36 L1181.35,97.37 L1182.00,97.39 L1182.65,97.41 L1183.31,97.42 L1183.96,97.44 L1184.61,97.46 L1185.26,97.48 L1185.91,97.49 L1186.56,97.51 L1187.22,97.53 L1187.87,97.55 L1188.52,97.56 L1189.17,97.58 L1189.82,97.60 L1190.48,97.62 L1191.13,97.64 L1191.78,97.66 L1192.43,97.67 L1193.08,97.69 L1193.74,97.71 L1194.39,97.73 L1195.04,97.75 L1195.69,97.77 L1196.34,97.79 L1196.99,97.80 L1197.65,97.82 L1198.30,97.84 L1198.95,97.86 L1199.60,97.88 L1200.25,97.90 L1200.91,97.92 L1201.56,97.94 L1202.21,97.96 L1202.86,97.98 L1203.51,98.00 L1204.17,98.02 L1204.82,98.04 L1205.47,98.06 L1206.12,98.08 L1206.77,98.10 L1207.43,98.12 L1208.08,98.14 L1208.73,98.16 L1209.38,98.18 L1210.03,98.20 L1210.68,98.22 L1211.34,98.24 L1211.99,98.26 L1212.64,98.28 L1213.29,98.30 L1213.94,98.32 L1214.60,98.35 L1215.25,98.37 L1215.90,98.39 L1216.55,98.41 L1217.20,98.43 L1217.86,98.45 L1218.51,98.47 L1219.16,98.50 L1219.81,98.52 L1220.46,98.54 L1221.11,98.56 L1221.77,98.58 L1222.42,98.61 L1223.07,98.63 L1223.72,98.65 L1224.37,98.67 L1225.03,98.70 L1225.68,98.72 L1226.33,98.74 L1226.98,98.76 L1227.63,98.79 L1228.29,98.81 L1228.94,98.83 L1229.59,98.86 L1230.24,98.88 L1230.89,98.90 L1231.55,98.93 L1232.20,98.95 L1232.85,98.98 L1233.50,99.00 L1234.15,99.03 L1234.80,99.05 L1235.46,99.08 L1236.11,99.11 L1236.76,99.14 L1237.41,99.16 L1238.06,99.19 L1238.72,99.22 L1239.37,99.25 L1240.02,99.28 L1240.67,99.31 L1241.32,99.34 L1241.98,99.37 L1242.63,99.40 L1243.28,99.43 L1243.93,99.46 L1244.58,99.49 L1245.23,99.52 L1245.89,99.56 L1246.54,99.59 L1247.19,99.62 L1247.84,99.65 L1248.49,99.69 L1249.15,99.72 L1249.80,99.75 L1250.45,99.78 L1251.10,99.82 L1251.75,99.85 L1252.41,99.89 L1253.06,99.92 L1253.71,99.95 L1254.36,99.99 L1255.01,100.02 L1255.66,100.06 L1256.32,100.09 L1256.97,100.12 L1257.62,100.16 L1258.27,100.19 L1258.92,100.23 L1259.58,100.26 L1260.23,100.30 L1260.88,100.33 L1261.53,100.37 L1262.18,100.40 L1262.84,100.44 L1263.49,100.47 L1264.14,100.51 L1264.79,100.54 L1265.44,100.58 L1266.10,100.61 L1266.75,100.65 L1267.40,100.68 L1268.05,100.72 L1268.70,100.75 L1269.35,100.78 L1270.01,100.82 L1270.66,100.85 L1271.31,100.89 L1271.96,100.92 L1272.61,100.96 L1273.27,100.99 L1273.92,101.03 L1274.57,101.06 L1275.22,101.09 L1275.87,101.13 L1276.53,101.16 L1277.18,101.19 L1277.83,101.23 L1278.48,101.26 L1279.13,101.30 L1279.78,101.33 L1280.44,101.37 L1281.09,101.40 L1281.74,101.43 L1282.39,101.47 L1283.04,101.50 L1283.70,101.54 L1284.35,101.57 L1285.00,101.61 L1285.65,101.64 L1286.30,101.67 L1286.96,101.71 L1287.61,101.74 L1288.26,101.78 L1288.91,101.81 L1289.56,101.85 L1290.22,101.88 L1290.87,101.92 L1291.52,101.95 L1292.17,101.99 L1292.82,102.02 L1293.47,102.06 L1294.13,102.10 L1294.78,102.13 L1295.43,102.17 L1296.08,102.20 L1296.73,102.24 L1297.39,102.27 L1298.04,102.31 L1298.69,102.34 L1299.34,102.38 L1299.99,102.42 L1300.65,102.45 L1301.30,102.49 L1301.95,102.53 L1302.60,102.56 L1303.25,102.60 L1303.90,102.63 L1304.56,102.67 L1305.21,102.71 L1305.86,102.74 L1306.51,102.78 L1307.16,102.82 L1307.82,102.85 L1308.47,102.89 L1309.12,102.93 L1309.77,102.96 L1310.42,103.00 L1311.08,103.04 L1311.73,103.08 L1312.38,103.11 L1313.03,103.15 L1313.68,103.19 L1314.34,103.23 L1314.99,103.26 L1315.64,103.30 L1316.29,103.34 L1316.94,103.38 L1317.59,103.41 L1318.25,103.45 L1318.90,103.49 L1319.55,103.53 L1320.20,103.57 L1320.85,103.61 L1321.51,103.65 L1322.16,103.68 L1322.81,103.72 L1323.46,103.77 L1324.11,103.81 L1324.77,103.85 L1325.42,103.89 L1326.07,103.94 L1326.72,103.99 L1327.37,104.03 L1328.02,104.09 L1328.68,104.14 L1329.33,104.20 L1329.98,104.27 L1330.63,104.34 L1331.28,104.43 L1331.94,104.53 L1332.59,104.65 L1333.24,104.80 L1333.89,104.97 L1334.54,105.19 L1335.20,105.45 L1335.85,105.76 L1336.50,106.13 L1337.15,106.58 L1337.80,107.09 L1338.46,107.66 L1339.11,108.31 L1339.76,109.01 L1340.41,109.77 L1341.06,110.57 L1341.71,111.40 L1342.37,112.26 L1343.02,113.15 L1343.67,114.05 L1344.32,114.96 L1344.97,115.88 L1345.63,116.81 L1346.28,117.73 L1346.93,118.66 L1347.58,119.60 L1348.23,120.53 L1348.89,121.45 L1349.54,122.38 L1350.19,123.31 L1350.84,124.23 L1351.49,125.15 L1352.14,126.07 L1352.80,126.99 L1353.45,127.90 L1354.10,128.81 L1354.75,129.72 L1355.40,130.63 L1356.06,131.53 L1356.71,132.43 L1357.36,133.33 L1358.01,134.22 L1358.66,135.11 L1359.32,136.00 L1359.97,136.89 L1360.62,137.77 L1361.27,138.65 L1361.92,139.53 L1362.58,140.41 L1363.23,141.28 L1363.88,142.15 L1364.53,143.02 L1365.18,143.88 L1365.83,144.74 L1366.49,145.60 L1367.14,146.46 L1367.79,147.31 L1368.44,148.17 L1369.09,149.01 L1369.75,149.86 L1370.40,150.71 L1371.05,151.55 L1371.70,152.39 L1372.35,153.22 L1373.01,154.06 L1373.66,154.89 L1374.31,155.72 L1374.96,156.54 L1375.61,157.37 L1376.26,158.19 L1376.92,159.01 L1377.57,159.82 L1378.22,160.64 L1378.87,161.45 L1379.52,162.26 L1380.18,163.07 L1380.83,163.87 L1381.48,164.67 L1382.13,165.47 L1382.78,166.27 L1383.44,167.07 L1384.09,167.86 L1384.74,168.65 L1385.39,169.44 L1386.04,170.22 L1386.69,171.01 L1387.35,171.79 L1388.00,172.57 L1388.65,173.35 L1389.30,174.12 L1389.95,174.89 L1390.61,175.66 L1391.26,176.43 L1391.91,177.20 L1392.56,177.96 L1393.21,178.72 L1393.87,179.48 L1394.52,180.24 L1395.17,180.99 L1395.82,181.74 L1396.47,182.49 L1397.13,183.24 L1397.78,183.99 L1398.43,184.73 L1399.08,185.47 L1399.73,186.21 L1400.38,186.95 L1401.04,187.68 L1401.69,188.42 L1402.34,189.15 L1402.99,189.88 L1403.64,190.61 L1404.30,191.33 L1404.95,192.05 L1405.60,192.77 L1406.25,193.49 L1406.90,194.21 L1407.56,194.93 L1408.21,195.64 L1408.86,196.35 L1409.51,197.06 L1410.16,197.76 L1410.81,198.47 L1411.47,199.17 L1412.12,199.87 L1412.77,200.57 L1413.42,201.27 L1414.07,201.97 L1414.73,202.66 L1415.38,203.35 L1416.03,204.04 L1416.68,204.73 L1417.33,205.41 L1417.99,206.10 L1418.64,206.78 L1419.29,207.46 L1419.94,208.14 L1420.59,208.81 L1421.25,209.49 L1421.90,210.16 L1422.55,210.83 L1423.20,211.50 L1423.85,212.17 L1424.50,212.83 L1425.16,213.49 L1425.81,214.16 L1426.46,214.81 L1427.11,215.47 L1427.76,216.13 L1428.42,216.78 L1429.07,217.44 L1429.72,218.09 L1430.37,218.74 L1431.02,219.38 L1431.68,220.03 L1432.33,220.67 L1432.98,221.32 L1433.63,221.96 L1434.28,222.59 L1434.93,223.23 L1435.59,223.87 L1436.24,224.50 L1436.89,225.13 L1437.54,225.76 L1438.19,226.39 L1438.85,227.02 L1439.50,227.64 L1440.15,228.27 L1440.80,228.89 L1441.45,229.51 L1442.11,230.13 L1442.76,230.74 L1443.41,231.36 L1444.06,231.97 L1444.71,232.59 L1445.37,233.20 L1446.02,233.80 L1446.67,234.41 L1447.32,235.02 L1447.97,235.62 L1448.62,236.22 L1449.28,236.83 L1449.93,237.42 L1450.58,238.02 L1451.23,238.62 L1451.88,239.21 L1452.54,239.81 L1453.19,240.40 L1453.84,240.99 L1454.49,241.58 L1455.14,242.16 L1455.80,242.75 L1456.45,243.33 L1457.10,243.92 L1457.75,244.50 L1458.40,245.08 L1459.05,245.65 L1459.71,246.23 L1460.36,246.81 L1461.01,247.38 L1461.66,247.95 L1462.31,248.52 L1462.97,249.09 L1463.62,249.66 L1464.27,250.23 L1464.92,250.79 L1465.57,251.35 L1466.23,251.92 L1466.88,252.48 L1467.53,253.04 L1468.18,253.59 L1468.83,254.15 L1469.49,254.71 L1470.14,255.26 L1470.79,255.81 L1471.44,256.36 L1472.09,256.91 L1472.74,257.46 L1473.40,258.01 L1474.05,258.55 L1474.70,259.09 L1475.35,259.64 L1476.00,260.18 L1476.66,260.72 L1477.31,261.26 L1477.96,261.79 L1478.61,262.33 L1479.26,262.86 L1479.92,263.40 L1480.57,263.93 L1481.22,264.46 L1481.87,264.99 L1482.52,265.52 L1483.17,266.04 L1483.83,266.57 L1484.48,267.09 L1485.13,267.61 L1485.78,268.14 L1486.43,268.66 L1487.09,269.17 L1487.74,269.69 L1488.39,270.21 L1489.04,270.72 L1489.69,271.24 L1490.35,271.75 L1491.00,272.26 L1491.65,272.77 L1492.30,273.28 L1492.95,273.79 L1493.61,274.29 L1494.26,274.80 L1494.91,275.30 L1495.56,275.80 L1496.21,276.31 L1496.86,276.81 L1497.52,277.30 L1498.17,277.80 L1498.82,278.30 L1499.47,278.79 L1500.12,279.29 L1500.78,279.78 L1501.43,280.27 L1502.08,280.76 L1502.73,281.25 L1503.38,281.74 L1504.04,282.23 L1504.69,282.71 L1505.34,283.20 L1505.99,283.68 L1506.64,284.16 L1507.29,284.64 L1507.95,285.13 L1508.60,285.60 L1509.25,286.08 L1509.90,286.56 L1510.55,287.03 L1511.21,287.51 L1511.86,287.98 L1512.51,288.45 L1513.16,288.92 L1513.81,289.39 L1514.47,289.86 L1515.12,290.33 L1515.77,290.80 L1516.42,291.26 L1517.07,291.73 L1517.73,292.19 L1518.38,292.65 L1519.03,293.11 L1519.68,293.57 L1520.33,294.03 L1520.98,294.49 L1521.64,294.95 L1522.29,295.40 L1522.94,295.86 L1523.59,296.31 L1524.24,296.76 L1524.90,297.22 L1525.55,297.67 L1526.20,298.12 L1526.85,298.56 L1527.50,299.01 L1528.16,299.46 L1528.81,299.90 L1529.46,300.35 L1530.11,300.79 L1530.76,301.23 L1531.41,301.67 L1532.07,302.11 L1532.72,302.55 L1533.37,302.99 L1534.02,303.43 L1534.67,303.87 L1535.33,304.30 L1535.98,304.73 L1536.63,305.17 L1537.28,305.60 L1537.93,306.03 L1538.59,306.46 L1539.24,306.89 L1539.89,307.32 L1540.54,307.75 L1541.19,308.17 L1541.84,308.60 L1542.50,309.02 L1543.15,309.45 L1543.80,309.87 L1544.45,310.29 L1545.10,310.71 L1545.76,311.13 L1546.41,311.55 L1547.06,311.97 L1547.71,312.38 L1548.36,312.80 L1549.02,313.21 L1549.67,313.63 L1550.32,314.04 L1550.97,314.45 L1551.62,314.86 L1552.28,315.27 L1552.93,315.68 L1553.58,316.09 L1554.23,316.50 L1554.88,316.91 L1555.53,317.31" fill="none" stroke="#ff0000" stroke-width="3.2" stroke-dasharray="1.45,1.28" stroke-linejoin="round"/>
</g>
<text transform="translate(917.50,495.30) scale(1,1.03)" font-size="22.1" text-anchor="middle" stroke="#000" stroke-width="0.3" font-family="Liberation Sans, Arial, Helvetica, sans-serif" font-weight="bold">0</text>
<text transform="translate(1001.85,495.30) scale(1,1.03)" font-size="22.1" text-anchor="middle" stroke="#000" stroke-width="0.3" font-family="Liberation Sans, Arial, Helvetica, sans-serif" font-weight="bold">20</text>
<text transform="translate(1086.19,495.30) scale(1,1.03)" font-size="22.1" text-anchor="middle" stroke="#000" stroke-width="0.3" font-family="Liberation Sans, Arial, Helvetica, sans-serif" font-weight="bold">40</text>
<text transform="translate(1170.54,495.30) scale(1,1.03)" font-size="22.1" text-anchor="middle" stroke="#000" stroke-width="0.3" font-family="Liberation Sans, Arial, Helvetica, sans-serif" font-weight="bold">60</text>
<text transform="translate(1254.89,495.30) scale(1,1.03)" font-size="22.1" text-anchor="middle" stroke="#000" stroke-width="0.3" font-family="Liberation Sans, Arial, Helvetica, sans-serif" font-weight="bold">80</text>
<text transform="translate(1339.23,495.30) scale(1,1.03)" font-size="22.1" text-anchor="middle" stroke="#000" stroke-width="0.3" font-family="Liberation Sans, Arial, Helvetica, sans-serif" font-weight="bold">100</text>
<text transform="translate(1423.58,495.30) scale(1,1.03)" font-size="22.1" text-anchor="middle" stroke="#000" stroke-width="0.3" font-family="Liberation Sans, Arial, Helvetica, sans-serif" font-weight="bold">120</text>
<text transform="translate(1507.93,495.30) scale(1,1.03)" font-size="22.1" text-anchor="middle" stroke="#000" stroke-width="0.3" font-family="Liberation Sans, Arial, Helvetica, sans-serif" font-weight="bold">140</text>
<text transform="translate(901.10,472.70) scale(1,1.03)" font-size="22.1" text-anchor="end" stroke="#000" stroke-width="0.3" font-family="Liberation Sans, Arial, Helvetica, sans-serif" font-weight="bold">-0.02</text>
<text transform="translate(901.10,418.26) scale(1,1.03)" font-size="22.1" text-anchor="end" stroke="#000" stroke-width="0.3" font-family="Liberation Sans, Arial, Helvetica, sans-serif" font-weight="bold">0.00</text>
<text transform="translate(901.10,363.83) scale(1,1.03)" font-size="22.1" text-anchor="end" stroke="#000" stroke-width="0.3" font-family="Liberation Sans, Arial, Helvetica, sans-serif" font-weight="bold">0.02</text>
<text transform="translate(901.10,309.39) scale(1,1.03)" font-size="22.1" text-anchor="end" stroke="#000" stroke-width="0.3" font-family="Liberation Sans, Arial, Helvetica, sans-serif" font-weight="bold">0.04</text>
<text transform="translate(901.10,254.96) scale(1,1.03)" font-size="22.1" text-anchor="end" stroke="#000" stroke-width="0.3" font-family="Liberation Sans, Arial, Helvetica, sans-serif" font-weight="bold">0.06</text>
<text transform="translate(901.10,200.52) scale(1,1.03)" font-size="22.1" text-anchor="end" stroke="#000" stroke-width="0.3" font-family="Liberation Sans, Arial, Helvetica, sans-serif" font-weight="bold">0.08</text>
<text transform="translate(901.10,146.09) scale(1,1.03)" font-size="22.1" text-anchor="end" stroke="#000" stroke-width="0.3" font-family="Liberation Sans, Arial, Helvetica, sans-serif" font-weight="bold">0.10</text>
<text transform="translate(901.10,91.65) scale(1,1.03)" font-size="22.1" text-anchor="end" stroke="#000" stroke-width="0.3" font-family="Liberation Sans, Arial, Helvetica, sans-serif" font-weight="bold">0.12</text>
<text transform="translate(901.10,37.22) scale(1,1.03)" font-size="22.1" text-anchor="end" stroke="#000" stroke-width="0.3" font-family="Liberation Sans, Arial, Helvetica, sans-serif" font-weight="bold">0.14</text>
<rect x="914.5" y="2.8" width="632.5999999999999" height="462.7" fill="none" stroke="#000" stroke-width="5.8"/>
<circle cx="914.4" cy="455.0" r="10.5" fill="#000"/>
<text transform="translate(945.70,33.40) scale(1,1.03)" font-size="22.1" text-anchor="start" stroke="#000" stroke-width="0.3" font-family="Liberation Sans, Arial, Helvetica, sans-serif" font-weight="bold">(b) Total (all orders in Z)</text>
<text transform="translate(1230.30,527.90) scale(1,1.03)" font-size="22.1" text-anchor="middle" stroke="#000" stroke-width="0.3" font-family="Liberation Sans, Arial, Helvetica, sans-serif" font-weight="bold">k</text>
<text transform="translate(820.50,233.40) rotate(-90) scale(1,1.03)" font-size="22.0" text-anchor="middle" stroke="#000" stroke-width="0.3" font-family="Liberation Sans, Arial, Helvetica, sans-serif" font-weight="bold">FT of the vacuum-polarization density</text>
<text transform="translate(1335.60,315.30) scale(1,1.03)" font-size="20" text-anchor="end" stroke="#000" stroke-width="0.3" font-family="Liberation Sans, Arial, Helvetica, sans-serif" font-weight="bold">Exact (L</text>
<text transform="translate(1350.30,318.10) scale(1,1.0)" font-size="20.5" text-anchor="middle" font-family="Noto Sans CJK SC, DejaVu Sans, sans-serif" font-weight="normal">→</text>
<text transform="translate(1372.90,315.80) scale(1,1.0)" font-size="20" text-anchor="middle" stroke="#000" stroke-width="0.25" font-family="Liberation Serif, serif" font-weight="normal">∞</text>
<text transform="translate(1379.80,315.30) scale(1,1.03)" font-size="20" text-anchor="start" stroke="#000" stroke-width="0.3" font-family="Liberation Sans, Arial, Helvetica, sans-serif" font-weight="bold">,</text>
<text transform="translate(1397.50,315.30) scale(0.92,1.03)" font-size="20" text-anchor="middle" stroke="#000" stroke-width="0.35" font-family="Liberation Serif, serif" font-weight="normal">Λ</text>
<text transform="translate(1419.90,318.10) scale(1,1.0)" font-size="20.5" text-anchor="middle" font-family="Noto Sans CJK SC, DejaVu Sans, sans-serif" font-weight="normal">→</text>
<text transform="translate(1442.20,315.80) scale(1,1.0)" font-size="20" text-anchor="middle" stroke="#000" stroke-width="0.25" font-family="Liberation Serif, serif" font-weight="normal">∞</text>
<text transform="translate(1455.80,315.30) scale(1,1.03)" font-size="20" text-anchor="end" stroke="#000" stroke-width="0.3" font-family="Liberation Sans, Arial, Helvetica, sans-serif" font-weight="bold">)</text>
<path d="M1467.90,308.70 L1522.90,308.70" fill="none" stroke="#000" stroke-width="3.3" stroke-linejoin="round"/>
<text transform="translate(1455.90,335.13) scale(1,1.03)" font-size="20" text-anchor="end" stroke="#000" stroke-width="0.3" font-family="Liberation Sans, Arial, Helvetica, sans-serif" font-weight="bold">=10</text>
<text transform="translate(1415.48,335.13) scale(0.92,1.03)" font-size="20" text-anchor="middle" stroke="#000" stroke-width="0.35" font-family="Liberation Serif, serif" font-weight="normal">Λ</text>
<text transform="translate(1403.52,335.13) scale(1,1.03)" font-size="20" text-anchor="end" stroke="#000" stroke-width="0.3" font-family="Liberation Sans, Arial, Helvetica, sans-serif" font-weight="bold">L=10,</text>
<path d="M1467.90,328.53 L1522.90,328.53" fill="none" stroke="#0000ff" stroke-width="3.0" stroke-dasharray="2.4,3.29" stroke-linejoin="round"/>
<text transform="translate(1455.90,354.96) scale(1,1.03)" font-size="20" text-anchor="end" stroke="#000" stroke-width="0.3" font-family="Liberation Sans, Arial, Helvetica, sans-serif" font-weight="bold">=20</text>
<text transform="translate(1415.48,354.96) scale(0.92,1.03)" font-size="20" text-anchor="middle" stroke="#000" stroke-width="0.35" font-family="Liberation Serif, serif" font-weight="normal">Λ</text>
<text transform="translate(1403.52,354.96) scale(1,1.03)" font-size="20" text-anchor="end" stroke="#000" stroke-width="0.3" font-family="Liberation Sans, Arial, Helvetica, sans-serif" font-weight="bold">L=10,</text>
<path d="M1467.90,348.36 L1522.90,348.36" fill="none" stroke="#006400" stroke-width="3.3" stroke-dasharray="7.3,1.6,1.4,1.8" stroke-linejoin="round"/>
<text transform="translate(1455.90,374.79) scale(1,1.03)" font-size="20" text-anchor="end" stroke="#000" stroke-width="0.3" font-family="Liberation Sans, Arial, Helvetica, sans-serif" font-weight="bold">=50</text>
<text transform="translate(1415.48,374.79) scale(0.92,1.03)" font-size="20" text-anchor="middle" stroke="#000" stroke-width="0.35" font-family="Liberation Serif, serif" font-weight="normal">Λ</text>
<text transform="translate(1403.52,374.79) scale(1,1.03)" font-size="20" text-anchor="end" stroke="#000" stroke-width="0.3" font-family="Liberation Sans, Arial, Helvetica, sans-serif" font-weight="bold">L=10,</text>
<path d="M1467.90,368.19 L1522.90,368.19" fill="none" stroke="#ffa500" stroke-width="3.3" stroke-dasharray="4.8,1.87" stroke-linejoin="round"/>
<text transform="translate(1455.90,394.62) scale(1,1.03)" font-size="20" text-anchor="end" stroke="#000" stroke-width="0.3" font-family="Liberation Sans, Arial, Helvetica, sans-serif" font-weight="bold">=100</text>
<text transform="translate(1404.36,394.62) scale(0.92,1.03)" font-size="20" text-anchor="middle" stroke="#000" stroke-width="0.35" font-family="Liberation Serif, serif" font-weight="normal">Λ</text>
<text transform="translate(1392.40,394.62) scale(1,1.03)" font-size="20" text-anchor="end" stroke="#000" stroke-width="0.3" font-family="Liberation Sans, Arial, Helvetica, sans-serif" font-weight="bold">L=10,</text>
<path d="M1467.90,388.02 L1522.90,388.02" fill="none" stroke="#ff0000" stroke-width="3.2" stroke-dasharray="1.45,1.28" stroke-linejoin="round"/>
</svg>
</body></html>
